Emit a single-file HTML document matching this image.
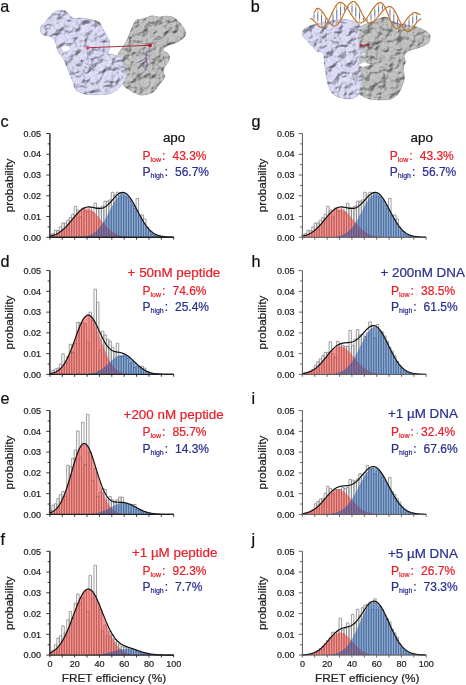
<!DOCTYPE html><html><head><meta charset="utf-8"><style>html,body{margin:0;padding:0;background:#fff;width:466px;height:685px;overflow:hidden}svg{display:block;will-change:transform}</style></head><body>
<svg width="466" height="685" viewBox="0 0 466 685">
<rect width="466" height="685" fill="#fff"/>
<defs>
<filter id="bump" x="0" y="0" width="466" height="110" filterUnits="userSpaceOnUse" color-interpolation-filters="sRGB">
<feTurbulence type="fractalNoise" baseFrequency="0.13" numOctaves="3" seed="7" result="n"/>
<feGaussianBlur in="n" stdDeviation="0.6" result="nb"/>
<feDiffuseLighting in="nb" surfaceScale="4" lighting-color="#fff" diffuseConstant="1.0" result="l"><feDistantLight azimuth="235" elevation="50"/></feDiffuseLighting>
<feComponentTransfer in="l" result="l2"><feFuncR type="linear" slope="0.75" intercept="0.47"/><feFuncG type="linear" slope="0.75" intercept="0.47"/><feFuncB type="linear" slope="0.75" intercept="0.47"/></feComponentTransfer>
<feBlend in="SourceGraphic" in2="l2" mode="multiply" result="m"/>
<feSpecularLighting in="nb" surfaceScale="4" specularConstant="0.6" specularExponent="18" lighting-color="#fff" result="sp"><feDistantLight azimuth="235" elevation="50"/></feSpecularLighting>
<feComposite in="sp" in2="SourceAlpha" operator="in" result="spc"/>
<feComposite in="m" in2="spc" operator="arithmetic" k1="0" k2="1" k3="0.12" k4="0" result="m2"/>
<feComposite in="m2" in2="SourceAlpha" operator="in"/>
</filter>
</defs>
<g>
<path d="M135.8,20.3C137.0,19.0 137.8,19.7 139.2,19.4C140.6,19.1 142.3,19.2 144.3,18.6C146.3,18.0 148.6,16.3 151.2,16.0C153.8,15.7 156.9,16.9 159.8,16.9C162.7,16.9 165.8,15.7 168.4,16.0C171.0,16.3 172.9,17.0 175.2,18.6C177.5,20.2 180.4,23.2 182.1,25.5C183.8,27.8 185.2,30.3 185.5,32.3C185.8,34.3 185.4,35.8 183.8,37.5C182.2,39.2 178.9,41.2 176.1,42.6C173.2,44.0 168.8,44.7 166.7,46.0C164.5,47.3 162.9,49.0 163.2,50.3C163.5,51.6 167.4,52.2 168.4,53.8C169.4,55.4 170.1,57.1 169.2,59.8C168.3,62.5 163.9,67.2 163.2,70.1C162.5,73.0 165.5,74.7 164.9,77.0C164.3,79.3 161.5,81.5 159.8,83.8C158.1,86.1 156.6,89.0 154.6,90.7C152.6,92.4 150.2,93.4 147.8,94.1C145.4,94.8 142.9,95.6 140.0,95.0C137.1,94.4 133.3,92.3 130.6,90.7C127.9,89.1 125.1,87.5 123.7,85.5C122.3,83.5 122.6,81.3 122.0,78.7C121.4,76.1 120.6,73.1 120.0,70.0C119.4,66.9 118.8,62.8 118.5,60.0C118.2,57.2 117.6,55.3 118.5,53.0C119.4,50.7 122.1,48.6 123.7,46.0C125.3,43.4 126.6,40.6 128.0,37.5C129.4,34.4 131.0,30.1 132.3,27.2C133.6,24.3 134.7,21.6 135.8,20.3Z" fill="#b8b8b8" stroke="#888888" stroke-width="0.8" filter="url(#bump)"/>
<path d="M40.3,29.0C40.3,27.9 40.4,26.9 41.0,26.0C41.6,25.1 43.1,24.7 44.0,23.8C44.9,22.9 45.3,22.1 46.3,20.8C47.3,19.6 48.6,17.8 50.0,16.3C51.4,14.8 53.0,12.8 54.5,11.8C56.0,10.8 57.5,10.6 59.0,10.3C60.5,10.1 62.0,9.8 63.5,10.3C65.0,10.8 66.8,12.2 68.0,13.3C69.2,14.4 69.7,16.1 71.0,17.0C72.3,17.9 74.1,18.4 75.6,18.5C77.1,18.6 78.3,17.8 80.0,17.8C81.7,17.8 84.0,18.1 86.0,18.5C88.0,18.9 90.0,19.5 92.0,20.0C94.0,20.5 96.5,20.8 98.0,21.5C99.5,22.2 100.1,23.1 101.0,24.5C101.9,25.9 102.5,28.3 103.5,30.2C104.5,32.1 105.9,33.9 107.0,36.0C108.1,38.1 109.6,40.9 110.0,43.0C110.4,45.1 109.7,47.1 109.4,48.9C109.1,50.7 107.6,52.6 108.2,53.6C108.8,54.6 111.4,54.3 112.9,54.7C114.5,55.1 116.0,55.5 117.5,55.9C119.0,56.3 121.3,56.1 122.2,57.1C123.1,58.1 122.4,59.8 122.8,61.8C123.2,63.8 123.9,66.5 124.5,68.8C125.1,71.1 126.5,73.5 126.3,75.8C126.1,78.1 124.7,80.7 123.4,82.8C122.1,84.9 120.7,86.8 118.7,88.6C116.8,90.3 114.2,92.3 111.7,93.3C109.2,94.3 106.9,94.2 104.0,94.5C101.1,94.8 97.4,95.1 94.1,95.0C90.8,94.9 87.0,94.7 83.9,93.8C80.9,92.9 77.7,91.8 75.8,89.7C73.9,87.7 73.9,84.5 72.7,81.5C71.5,78.5 69.9,74.8 68.6,71.4C67.2,68.0 65.8,63.8 64.6,61.2C63.4,58.6 62.5,57.9 61.3,56.0C60.1,54.1 58.4,52.0 57.5,50.0C56.6,48.0 56.6,45.8 56.0,44.0C55.4,42.2 54.8,40.8 53.8,39.5C52.8,38.2 51.6,37.2 50.0,36.5C48.4,35.8 45.5,35.6 44.0,35.0C42.5,34.4 41.6,33.8 41.0,32.8C40.4,31.8 40.3,30.1 40.3,29.0Z" fill="#d2d2ec" stroke="#a0a0c4" stroke-width="0.8" filter="url(#bump)"/>
<ellipse cx="65.6" cy="48.6" rx="4.6" ry="2.9" fill="#fff" stroke="#b8b8d0" stroke-width="0.6"/>
<line x1="87.6" y1="47.8" x2="149.9" y2="45.3" stroke="#a83040" stroke-width="1.1"/>
<circle cx="87.6" cy="47.8" r="1.9" fill="#d05868"/><circle cx="149.9" cy="45.3" r="2.1" fill="#b02834"/>
<path d="M87.4,49.6 L87.6,57.2 L88.5,59.5 L87.6,64.2 L89.7,67.7 L89.4,70.7 M90.3,59 L95.3,61.9 M85,63.6 L92,65.4" fill="none" stroke="#9a78c0" stroke-width="0.8" stroke-dasharray="1.2 0.8"/>
<path d="M147.1,50.8 L146,57.8 L147.1,64.2 L146.2,66.6 L145.4,70.7 M137.8,62.5 L143.6,59.5 L146,57.8 M141.3,64.2 L144.8,68.3" fill="none" stroke="#7a5aa8" stroke-width="0.9"/>
<path d="M148.3,53.7 L151.8,62.5" fill="none" stroke="#e090c8" stroke-width="0.7"/>
<path d="M362.3,25.5C364.5,24.1 368.4,23.1 371.4,21.9C374.4,20.7 377.9,19.0 380.5,18.2C383.1,17.4 385.1,16.8 386.9,17.3C388.7,17.8 389.5,19.9 391.5,21.0C393.5,22.1 395.8,22.9 398.8,23.7C401.8,24.4 406.5,24.9 409.7,25.5C412.9,26.1 415.5,26.6 417.9,27.4C420.3,28.2 422.3,28.9 424.3,30.1C426.3,31.3 429.0,32.7 429.8,34.7C430.6,36.7 430.1,40.0 428.9,42.0C427.7,44.0 425.1,45.3 422.5,46.5C419.9,47.7 416.0,48.4 413.4,49.3C410.8,50.2 408.5,50.8 407.0,52.0C405.5,53.2 404.6,54.9 404.3,56.6C404.0,58.3 405.4,59.9 405.2,62.0C405.0,64.1 403.4,66.6 403.3,69.3C403.2,72.0 404.6,75.4 404.3,78.4C404.0,81.5 402.7,84.8 401.5,87.6C400.3,90.3 399.0,92.9 397.0,94.9C395.0,96.9 392.8,98.6 389.7,99.4C386.6,100.2 382.3,100.2 378.7,100.0C375.1,99.8 371.2,99.7 367.8,98.5C364.4,97.3 360.4,95.1 358.4,93.0C356.4,90.9 356.1,89.0 355.6,85.7C355.1,82.4 355.6,76.0 355.5,73.0C355.4,70.0 355.0,69.2 355.0,67.5C355.0,65.8 355.3,64.7 355.3,62.9C355.3,61.1 355.1,58.9 355.1,56.6C355.1,54.3 355.0,52.0 355.2,49.3C355.4,46.5 355.8,43.3 356.3,40.1C356.8,36.9 357.0,32.4 358.0,30.0C359.0,27.6 360.1,26.9 362.3,25.5Z" fill="#b8b8b8" stroke="#888888" stroke-width="0.8" filter="url(#bump)"/>
<path d="M302.7,31.8C303.1,30.5 303.9,29.1 305.3,28.0C306.7,26.9 309.3,26.2 311.3,25.5C313.3,24.8 314.3,24.7 317.3,24.0C320.3,23.3 325.0,21.9 329.3,21.2C333.6,20.4 339.4,19.6 343.1,19.5C346.8,19.4 349.1,19.8 351.7,20.5C354.3,21.2 356.9,22.6 358.5,24.0C360.1,25.4 361.1,27.2 361.1,29.2C361.1,31.2 358.8,33.4 358.5,36.0C358.2,38.6 359.0,42.0 359.4,44.6C359.8,47.2 361.1,48.9 361.1,51.5C361.1,54.1 359.8,57.2 359.4,60.1C359.0,63.0 358.2,66.1 358.5,68.7C358.8,71.3 360.7,72.7 361.1,75.5C361.5,78.3 361.5,82.6 361.1,85.8C360.7,89.0 360.1,92.2 358.5,94.4C356.9,96.6 354.6,98.1 351.7,98.7C348.8,99.3 344.5,98.8 341.4,97.9C338.2,97.1 334.9,95.6 332.8,93.6C330.7,91.6 329.6,89.1 328.5,85.8C327.4,82.5 326.6,77.8 325.9,73.8C325.2,69.8 324.6,65.2 324.2,61.8C323.8,58.4 324.4,54.9 323.3,53.2C322.2,51.5 319.2,52.6 317.3,51.5C315.4,50.4 314.1,48.4 312.2,46.4C310.3,44.4 307.8,41.2 306.2,39.5C304.6,37.8 303.3,37.3 302.7,36.0C302.1,34.7 302.3,33.1 302.7,31.8Z" fill="#d2d2ec" stroke="#a0a0c4" stroke-width="0.8" filter="url(#bump)"/>
<path d="M358.2,64.6 L361.5,63.2 L364.5,61.3 L367.5,63.2 L371.3,64.4 L367.5,66 L363.5,67 L359.8,66.2 Z" fill="#fff" stroke="#b0b0b8" stroke-width="0.5"/>
<ellipse cx="363.5" cy="54.2" rx="1.1" ry="1.0" fill="#fff"/>
<line x1="361.1" y1="45.5" x2="368" y2="45" stroke="#903040" stroke-width="1.2"/>
<circle cx="361.1" cy="45.5" r="1.7" fill="#a03040"/><circle cx="368" cy="45" r="1.7" fill="#a03040"/>
<path d="M314.0,13.1L314.0,14.8M314.0,18.2L314.0,19.9M317.8,9.2L317.8,13.0M317.8,20.6L317.8,24.4M321.6,11.6L321.6,15.3M321.6,22.9L321.6,26.7M325.4,17.3L325.4,19.1M325.4,22.7L325.4,24.5M333.0,11.8L333.0,15.1M333.0,21.6L333.0,24.9M336.8,5.2L336.8,9.9M336.8,19.4L336.8,24.1M340.6,3.2L340.6,7.3M340.6,15.5L340.6,19.5M344.4,5.4L344.4,7.0M344.4,10.1L344.4,11.7M348.2,6.8L348.2,7.2M348.2,8.0L348.2,8.4M352.0,2.6L352.0,5.7M352.0,11.8L352.0,14.9M355.8,3.7L355.8,7.8M355.8,16.1L355.8,20.2M359.6,9.1L359.6,12.4M359.6,18.9L359.6,22.2M363.4,17.2L363.4,18.1M363.4,19.9L363.4,20.8M367.2,18.5L367.2,19.1M367.2,20.3L367.2,20.9M371.0,12.4L371.0,14.8M371.0,19.6L371.0,22.0M374.8,6.8L374.8,10.0M374.8,16.3L374.8,19.4M378.6,3.9L378.6,6.8M378.6,12.5L378.6,15.4M382.4,4.4L382.4,5.9M382.4,8.9L382.4,10.4M390.0,7.3L390.0,10.1M390.0,15.7L390.0,18.5M393.8,10.6L393.8,14.5M393.8,22.3L393.8,26.2M397.6,17.0L397.6,19.7M397.6,24.9L397.6,27.6M405.2,22.5L405.2,24.2M405.2,27.5L405.2,29.2M409.0,17.3L409.0,20.6M409.0,27.2L409.0,30.5M412.8,13.9L412.8,17.2M412.8,23.6L412.8,26.8M416.6,13.7L416.6,15.7M416.6,19.9L416.6,21.9" stroke="#a8a060" stroke-width="0.8" fill="none"/>
<path d="M314.0,14.8L314.0,18.2M317.8,13.0L317.8,20.6M321.6,15.3L321.6,22.9M325.4,19.1L325.4,22.7M333.0,15.1L333.0,21.6M336.8,9.9L336.8,19.4M340.6,7.3L340.6,15.5M344.4,7.0L344.4,10.1M348.2,7.2L348.2,8.0M352.0,5.7L352.0,11.8M355.8,7.8L355.8,16.1M359.6,12.4L359.6,18.9M363.4,18.1L363.4,19.9M367.2,19.1L367.2,20.3M371.0,14.8L371.0,19.6M374.8,10.0L374.8,16.3M378.6,6.8L378.6,12.5M382.4,5.9L382.4,8.9M390.0,10.1L390.0,15.7M393.8,14.5L393.8,22.3M397.6,19.7L397.6,24.9M405.2,24.2L405.2,27.5M409.0,20.6L409.0,27.2M412.8,17.2L412.8,23.6M416.6,15.7L416.6,19.9" stroke="#4a5aa0" stroke-width="0.9" fill="none"/>
<polyline points="313.5,12.5 314.0,12.3 314.5,11.8 315.0,11.1 315.5,10.2 316.0,9.4 316.5,8.7 317.0,8.4 317.5,8.3 318.0,8.4 318.5,8.5 319.0,8.7 319.5,9.0 320.0,9.4 320.5,9.8 321.0,10.2 321.5,10.8 322.0,11.4 322.5,12.0 323.0,12.7 323.5,13.4 324.0,14.1 324.5,14.9 325.0,15.7 325.5,16.5 326.0,17.3 326.5,18.1 327.0,18.9 327.5,19.7 328.0,20.5 328.5,21.2 329.0,21.9 329.5,22.6 330.0,23.2 330.5,23.7 331.0,24.3 331.5,24.7 332.0,25.1 332.5,25.4 333.0,25.7 333.5,25.9 334.0,26.0 334.5,26.0 335.0,26.0 335.5,25.8 336.0,25.6 336.5,25.3 337.0,24.9 337.5,24.5 338.0,24.0 338.5,23.4 339.0,22.7 339.5,22.0 340.0,21.2 340.5,20.3 341.0,19.5 341.5,18.5 342.0,17.6 342.5,16.6 343.0,15.6 343.5,14.6 344.0,13.5 344.5,12.5 345.0,11.5 345.5,10.5 346.0,9.5 346.5,8.6 347.0,7.7 347.5,6.8 348.0,6.0 348.5,5.2 349.0,4.5 349.5,3.9 350.0,3.3 350.5,2.8 351.0,2.4 351.5,2.0 352.0,1.8 352.5,1.6 353.0,1.5 353.5,1.5 354.0,1.6 354.5,1.8 355.0,2.1 355.5,2.5 356.0,2.9 356.5,3.5 357.0,4.1 357.5,4.8 358.0,5.6 358.5,6.5 359.0,7.4 359.5,8.3 360.0,9.3 360.5,10.3 361.0,11.3 361.5,12.4 362.0,13.4 362.5,14.4 363.0,15.4 363.5,16.4 364.0,17.3 364.5,18.2 365.0,19.0 365.5,19.8 366.0,20.5 366.5,21.1 367.0,21.7 367.5,22.1 368.0,22.5 368.5,22.8 369.0,22.9 369.5,23.0 370.0,23.0 370.5,22.9 371.0,22.8 371.5,22.6 372.0,22.4 372.5,22.2 373.0,21.9 373.5,21.5 374.0,21.1 374.5,20.7 375.0,20.2 375.5,19.7 376.0,19.2 376.5,18.6 377.0,18.1 377.5,17.5 378.0,16.9 378.5,16.2 379.0,15.6 379.5,14.9 380.0,14.3 380.5,13.7 381.0,13.0 381.5,12.4 382.0,11.8 382.5,11.2 383.0,10.6 383.5,10.1 384.0,9.6 384.5,9.1 385.0,8.6 385.5,8.2 386.0,7.8 386.5,7.5 387.0,7.2 387.5,7.0 388.0,6.8 388.5,6.6 389.0,6.5 389.5,6.5 390.0,6.5 390.5,6.6 391.0,6.8 391.5,7.1 392.0,7.5 392.5,7.9 393.0,8.5 393.5,9.1 394.0,9.8 394.5,10.6 395.0,11.4 395.5,12.3 396.0,13.2 396.5,14.2 397.0,15.2 397.5,16.2 398.0,17.3 398.5,18.4 399.0,19.4 399.5,20.5 400.0,21.6 400.5,22.6 401.0,23.6 401.5,24.6 402.0,25.6 402.5,26.5 403.0,27.3 403.5,28.1 404.0,28.8 404.5,29.4 405.0,30.0 405.5,30.4 406.0,30.8 406.5,31.1 407.0,31.3 407.5,31.5 408.0,31.5 408.5,31.4 409.0,31.3 409.5,31.1 410.0,30.8 410.5,30.4 411.0,30.0 411.5,29.5 412.0,28.9 412.5,28.3 413.0,27.6 413.5,27.0 414.0,26.3 414.5,25.5 415.0,24.8 415.5,24.1 416.0,23.4 416.5,22.7 417.0,22.1 417.5,21.5 418.0,20.9 418.5,20.4 419.0,20.0 419.5,19.7 420.0,19.4 420.5,19.2 421.0,19.0 421.5,19.0" fill="none" stroke="#c07028" stroke-width="1.15" stroke-linejoin="round"/>
<polyline points="310.0,18.5 310.5,18.5 311.0,18.7 311.5,18.8 312.0,19.1 312.5,19.4 313.0,19.8 313.5,20.3 314.0,20.8 314.5,21.3 315.0,21.8 315.5,22.4 316.0,23.0 316.5,23.6 317.0,24.2 317.5,24.7 318.0,25.2 318.5,25.7 319.0,26.2 319.5,26.6 320.0,26.9 320.5,27.2 321.0,27.3 321.5,27.5 322.0,27.5 322.5,27.5 323.0,27.3 323.5,27.1 324.0,26.8 324.5,26.4 325.0,25.9 325.5,25.3 326.0,24.7 326.5,23.9 327.0,23.2 327.5,22.3 328.0,21.4 328.5,20.5 329.0,19.5 329.5,18.5 330.0,17.4 330.5,16.3 331.0,15.3 331.5,14.2 332.0,13.1 332.5,12.1 333.0,11.0 333.5,10.0 334.0,9.1 334.5,8.1 335.0,7.2 335.5,6.4 336.0,5.7 336.5,5.0 337.0,4.4 337.5,3.8 338.0,3.4 338.5,3.0 339.0,2.7 339.5,2.5 340.0,2.4 340.5,2.4 341.0,2.5 341.5,2.6 342.0,2.8 342.5,3.0 343.0,3.3 343.5,3.7 344.0,4.1 344.5,4.6 345.0,5.2 345.5,5.7 346.0,6.4 346.5,7.0 347.0,7.7 347.5,8.5 348.0,9.2 348.5,10.0 349.0,10.8 349.5,11.6 350.0,12.5 350.5,13.3 351.0,14.1 351.5,14.9 352.0,15.7 352.5,16.5 353.0,17.2 353.5,17.9 354.0,18.6 354.5,19.3 355.0,19.9 355.5,20.5 356.0,21.0 356.5,21.4 357.0,21.8 357.5,22.2 358.0,22.5 358.5,22.7 359.0,22.9 359.5,23.0 360.0,23.0 360.5,23.0 361.0,22.9 361.5,22.7 362.0,22.5 362.5,22.3 363.0,21.9 363.5,21.6 364.0,21.1 364.5,20.7 365.0,20.1 365.5,19.6 366.0,19.0 366.5,18.3 367.0,17.7 367.5,17.0 368.0,16.2 368.5,15.5 369.0,14.7 369.5,14.0 370.0,13.2 370.5,12.4 371.0,11.6 371.5,10.9 372.0,10.1 372.5,9.4 373.0,8.6 373.5,7.9 374.0,7.3 374.5,6.6 375.0,6.0 375.5,5.5 376.0,4.9 376.5,4.5 377.0,4.0 377.5,3.7 378.0,3.3 378.5,3.1 379.0,2.9 379.5,2.7 380.0,2.6 380.5,2.6 381.0,2.7 381.5,2.8 382.0,3.2 382.5,3.6 383.0,4.1 383.5,4.8 384.0,5.5 384.5,6.4 385.0,7.3 385.5,8.4 386.0,9.4 386.5,10.6 387.0,11.8 387.5,13.0 388.0,14.3 388.5,15.5 389.0,16.8 389.5,18.1 390.0,19.3 390.5,20.5 391.0,21.7 391.5,22.7 392.0,23.8 392.5,24.7 393.0,25.6 393.5,26.3 394.0,27.0 394.5,27.5 395.0,27.9 395.5,28.3 396.0,28.4 396.5,28.5 397.0,28.5 397.5,28.4 398.0,28.2 398.5,28.1 399.0,27.8 399.5,27.5 400.0,27.2 400.5,26.8 401.0,26.3 401.5,25.9 402.0,25.3 402.5,24.8 403.0,24.2 403.5,23.6 404.0,23.0 404.5,22.3 405.0,21.7 405.5,21.0 406.0,20.3 406.5,19.7 407.0,19.0 407.5,18.4 408.0,17.7 408.5,17.1 409.0,16.5 409.5,16.0 410.0,15.4 410.5,15.0 411.0,14.5 411.5,14.1 412.0,13.7 412.5,13.4 413.0,13.1 413.5,12.9 414.0,12.8 414.5,12.7 415.0,12.6 415.5,12.6 416.0,12.7 416.5,12.9 417.0,13.1 417.5,13.4 418.0,13.6 418.5,13.9 419.0,14.1 419.5,14.3 420.0,14.5 420.5,14.5" fill="none" stroke="#c07028" stroke-width="1.15" stroke-linejoin="round"/>
</g>
<text x="0.3" y="12" font-family="Liberation Sans" font-size="16.2" fill="#111" stroke="#111" stroke-width="0.22">a</text>
<text x="250.7" y="12" font-family="Liberation Sans" font-size="16.2" fill="#111" stroke="#111" stroke-width="0.22">b</text>
<path d="M49.40 237.30V234.81H51.88V237.30M51.88 237.30V233.77H54.35V237.30M54.35 237.30V230.24H56.83V237.30M56.83 237.30V230.66H59.30V237.30M59.30 237.30V226.92H61.78V237.30M61.78 237.30V222.98H64.26V237.30M64.26 237.30V222.98H66.73V237.30M66.73 237.30V220.28H69.21V237.30M69.21 237.30V217.58H71.68V237.30M71.68 237.30V214.26H74.16V237.30M74.16 237.30V206.37H76.64V237.30M76.64 237.30V210.10H79.11V237.30M79.11 237.30V216.96H81.59V237.30M81.59 237.30V208.03H84.06V237.30M84.06 237.30V210.73H86.54V237.30M86.54 237.30V211.56H89.02V237.30M89.02 237.30V207.41H91.49V237.30M91.49 237.30V212.80H93.97V237.30M93.97 237.30V203.25H96.44V237.30M96.44 237.30V207.41H98.92V237.30M98.92 237.30V207.41H101.40V237.30M101.40 237.30V206.16H103.87V237.30M103.87 237.30V201.18H106.35V237.30M106.35 237.30V201.18H108.82V237.30M108.82 237.30V199.93H111.30V237.30M111.30 237.30V192.25H113.78V237.30M113.78 237.30V194.95H116.25V237.30M116.25 237.30V192.25H118.73V237.30M118.73 237.30V192.87H121.20V237.30M121.20 237.30V193.70H123.68V237.30M123.68 237.30V196.40H126.16V237.30M126.16 237.30V197.86H128.63V237.30M128.63 237.30V201.18H131.11V237.30M131.11 237.30V205.33H133.58V237.30M133.58 237.30V208.65H136.06V237.30M136.06 237.30V198.48H138.54V237.30M138.54 237.30V215.71H141.01V237.30M141.01 237.30V214.88H143.49V237.30M143.49 237.30V219.03H145.96V237.30M145.96 237.30V227.34H148.44V237.30M148.44 237.30V231.49H150.92V237.30M150.92 237.30V234.19H153.39V237.30M153.39 237.30V235.43H155.87V237.30M155.87 237.30V236.26H158.34V237.30M158.34 237.30V235.87H160.82V237.30M160.82 237.30V236.40H163.30V237.30M163.30 237.30V236.75H165.77V237.30M165.77 237.30V236.97H168.25V237.30M168.25 237.30V237.11H170.72V237.30M170.72 237.30V237.19H173.20V237.30" fill="#fff" stroke="#858585" stroke-width="0.8"/>
<path d="M49.90,237.30L49.90,236.16 50.52,236.03 51.14,235.89 51.76,235.73 52.38,235.56 52.99,235.38 53.61,235.18 54.23,234.96 54.85,234.72 55.47,234.47 56.09,234.20 56.71,233.91 57.33,233.59 57.95,233.26 58.57,232.90 59.19,232.52 59.80,232.12 60.42,231.70 61.04,231.25 61.66,230.77 62.28,230.28 62.90,229.75 63.52,229.21 64.14,228.64 64.76,228.05 65.38,227.44 65.99,226.81 66.61,226.15 67.23,225.48 67.85,224.79 68.47,224.09 69.09,223.37 69.71,222.64 70.33,221.90 70.95,221.15 71.56,220.40 72.18,219.65 72.80,218.89 73.42,218.14 74.04,217.40 74.66,216.67 75.28,215.94 75.90,215.24 76.52,214.55 77.14,213.89 77.75,213.25 78.37,212.64 78.99,212.06 79.61,211.51 80.23,211.00 80.85,210.54 81.47,210.11 82.09,209.73 82.71,209.39 83.33,209.11 83.94,208.87 84.56,208.68 85.18,208.55 85.80,208.47 86.42,208.44 87.04,208.47 87.66,208.55 88.28,208.68 88.90,208.87 89.52,209.11 90.13,209.39 90.75,209.73 91.37,210.11 91.99,210.54 92.61,211.00 93.23,211.51 93.85,212.06 94.47,212.64 95.09,213.25 95.71,213.89 96.32,214.55 96.94,215.24 97.56,215.94 98.18,216.67 98.80,217.40 99.42,218.14 100.04,218.89 100.66,219.65 101.28,220.40 101.90,221.15 102.52,221.90 103.13,222.64 103.75,223.37 104.37,224.09 104.99,224.79 105.61,225.48 106.23,226.15 106.85,226.81 107.47,227.44 108.09,228.05 108.70,228.64 109.32,229.21 109.94,229.75 110.56,230.28 111.18,230.77 111.80,231.25 112.42,231.70 113.04,232.12 113.66,232.52 114.28,232.90 114.90,233.26 115.51,233.59 116.13,233.91 116.75,234.20 117.37,234.47 117.99,234.72 118.61,234.96 119.23,235.18 119.85,235.38 120.47,235.56 121.09,235.73 121.70,235.89 122.32,236.03 122.94,236.16 123.56,236.28 124.18,236.39 124.80,236.49 125.42,236.58 126.04,236.66 126.66,236.73 127.28,236.80 127.89,236.85 128.51,236.91 129.13,236.95 129.75,237.00 130.37,237.03 130.99,237.07 131.61,237.10 132.23,237.12 132.85,237.14 133.47,237.17 134.08,237.18 134.70,237.20 135.32,237.21 135.94,237.22 136.56,237.23 137.18,237.24 137.80,237.25 138.42,237.26 139.04,237.26 139.66,237.27 140.27,237.27 140.89,237.28 141.51,237.28 142.13,237.28 142.75,237.29 143.37,237.29 143.99,237.29 144.61,237.29 145.23,237.29 145.84,237.29 146.46,237.30 147.08,237.30 147.70,237.30 148.32,237.30 148.94,237.30 149.56,237.30 150.18,237.30 150.80,237.30 151.42,237.30 152.03,237.30 152.65,237.30 153.27,237.30 153.89,237.30 154.51,237.30 155.13,237.30 155.75,237.30 156.37,237.30 156.99,237.30 157.61,237.30 158.22,237.30 158.84,237.30 159.46,237.30 160.08,237.30 160.70,237.30 161.32,237.30 161.94,237.30 162.56,237.30 163.18,237.30 163.80,237.30 164.41,237.30 165.03,237.30 165.65,237.30 166.27,237.30 166.89,237.30 167.51,237.30 168.13,237.30 168.75,237.30 169.37,237.30 169.99,237.30 170.60,237.30 171.22,237.30 171.84,237.30 172.46,237.30 173.08,237.30 173.70,237.30L173.70,237.30Z" fill="rgb(235,45,40)" fill-opacity="0.5"/>
<path d="M49.90,237.30L49.90,237.30 50.52,237.30 51.14,237.30 51.76,237.30 52.38,237.30 52.99,237.30 53.61,237.30 54.23,237.30 54.85,237.30 55.47,237.30 56.09,237.30 56.71,237.30 57.33,237.30 57.95,237.30 58.57,237.30 59.19,237.30 59.80,237.30 60.42,237.30 61.04,237.30 61.66,237.30 62.28,237.30 62.90,237.30 63.52,237.30 64.14,237.30 64.76,237.29 65.38,237.29 65.99,237.29 66.61,237.29 67.23,237.29 67.85,237.29 68.47,237.28 69.09,237.28 69.71,237.28 70.33,237.27 70.95,237.27 71.56,237.26 72.18,237.25 72.80,237.25 73.42,237.24 74.04,237.23 74.66,237.21 75.28,237.20 75.90,237.18 76.52,237.16 77.14,237.14 77.75,237.11 78.37,237.08 78.99,237.05 79.61,237.01 80.23,236.97 80.85,236.92 81.47,236.86 82.09,236.80 82.71,236.73 83.33,236.65 83.94,236.56 84.56,236.46 85.18,236.35 85.80,236.23 86.42,236.09 87.04,235.94 87.66,235.77 88.28,235.58 88.90,235.38 89.52,235.15 90.13,234.90 90.75,234.63 91.37,234.34 91.99,234.02 92.61,233.67 93.23,233.30 93.85,232.89 94.47,232.45 95.09,231.98 95.71,231.48 96.32,230.94 96.94,230.36 97.56,229.75 98.18,229.10 98.80,228.41 99.42,227.68 100.04,226.91 100.66,226.10 101.28,225.26 101.90,224.38 102.52,223.46 103.13,222.50 103.75,221.51 104.37,220.49 104.99,219.43 105.61,218.35 106.23,217.25 106.85,216.12 107.47,214.97 108.09,213.80 108.70,212.63 109.32,211.44 109.94,210.26 110.56,209.07 111.18,207.90 111.80,206.73 112.42,205.58 113.04,204.46 113.66,203.36 114.28,202.29 114.90,201.27 115.51,200.29 116.13,199.35 116.75,198.47 117.37,197.65 117.99,196.89 118.61,196.20 119.23,195.58 119.85,195.04 120.47,194.57 121.09,194.19 121.70,193.89 122.32,193.67 122.94,193.54 123.56,193.50 124.18,193.54 124.80,193.67 125.42,193.89 126.04,194.19 126.66,194.57 127.28,195.04 127.89,195.58 128.51,196.20 129.13,196.89 129.75,197.65 130.37,198.47 130.99,199.35 131.61,200.29 132.23,201.27 132.85,202.29 133.47,203.36 134.08,204.46 134.70,205.58 135.32,206.73 135.94,207.90 136.56,209.07 137.18,210.26 137.80,211.44 138.42,212.63 139.04,213.80 139.66,214.97 140.27,216.12 140.89,217.25 141.51,218.35 142.13,219.43 142.75,220.49 143.37,221.51 143.99,222.50 144.61,223.46 145.23,224.38 145.84,225.26 146.46,226.10 147.08,226.91 147.70,227.68 148.32,228.41 148.94,229.10 149.56,229.75 150.18,230.36 150.80,230.94 151.42,231.48 152.03,231.98 152.65,232.45 153.27,232.89 153.89,233.30 154.51,233.67 155.13,234.02 155.75,234.34 156.37,234.63 156.99,234.90 157.61,235.15 158.22,235.38 158.84,235.58 159.46,235.77 160.08,235.94 160.70,236.09 161.32,236.23 161.94,236.35 162.56,236.46 163.18,236.56 163.80,236.65 164.41,236.73 165.03,236.80 165.65,236.86 166.27,236.92 166.89,236.97 167.51,237.01 168.13,237.05 168.75,237.08 169.37,237.11 169.99,237.14 170.60,237.16 171.22,237.18 171.84,237.20 172.46,237.21 173.08,237.23 173.70,237.24L173.70,237.30Z" fill="rgb(13,77,171)" fill-opacity="0.476"/>
<polyline points="49.90,236.16 50.52,236.03 51.14,235.89 51.76,235.73 52.38,235.56 52.99,235.38 53.61,235.18 54.23,234.96 54.85,234.72 55.47,234.47 56.09,234.20 56.71,233.91 57.33,233.59 57.95,233.26 58.57,232.90 59.19,232.52 59.80,232.12 60.42,231.69 61.04,231.24 61.66,230.77 62.28,230.27 62.90,229.75 63.52,229.21 64.14,228.64 64.76,228.05 65.38,227.43 65.99,226.80 66.61,226.14 67.23,225.47 67.85,224.78 68.47,224.07 69.09,223.35 69.71,222.62 70.33,221.87 70.95,221.12 71.56,220.36 72.18,219.60 72.80,218.84 73.42,218.08 74.04,217.32 74.66,216.58 75.28,215.84 75.90,215.12 76.52,214.41 77.14,213.73 77.75,213.06 78.37,212.42 78.99,211.81 79.61,211.22 80.23,210.67 80.85,210.15 81.47,209.67 82.09,209.23 82.71,208.82 83.33,208.46 83.94,208.13 84.56,207.84 85.18,207.60 85.80,207.40 86.42,207.23 87.04,207.11 87.66,207.02 88.28,206.96 88.90,206.94 89.52,206.96 90.13,207.00 90.75,207.06 91.37,207.15 91.99,207.26 92.61,207.38 93.23,207.51 93.85,207.65 94.47,207.79 95.09,207.93 95.71,208.06 96.32,208.19 96.94,208.30 97.56,208.39 98.18,208.46 98.80,208.51 99.42,208.52 100.04,208.50 100.66,208.45 101.28,208.36 101.90,208.23 102.52,208.06 103.13,207.84 103.75,207.58 104.37,207.28 104.99,206.93 105.61,206.53 106.23,206.10 106.85,205.62 107.47,205.11 108.09,204.55 108.70,203.97 109.32,203.35 109.94,202.71 110.56,202.05 111.18,201.37 111.80,200.68 112.42,199.98 113.04,199.28 113.66,198.58 114.28,197.90 114.90,197.23 115.51,196.58 116.13,195.96 116.75,195.37 117.37,194.82 117.99,194.32 118.61,193.86 119.23,193.46 119.85,193.12 120.47,192.84 121.09,192.62 121.70,192.48 122.32,192.40 122.94,192.40 123.56,192.48 124.18,192.63 124.80,192.86 125.42,193.16 126.04,193.55 126.66,194.00 127.28,194.54 127.89,195.14 128.51,195.81 129.13,196.55 129.75,197.35 130.37,198.21 130.99,199.12 131.61,200.08 132.23,201.09 132.85,202.14 133.47,203.22 134.08,204.34 134.70,205.48 135.32,206.64 135.94,207.82 136.56,209.01 137.18,210.20 137.80,211.40 138.42,212.59 139.04,213.77 139.66,214.94 140.27,216.09 140.89,217.22 141.51,218.33 142.13,219.42 142.75,220.47 143.37,221.50 143.99,222.49 144.61,223.45 145.23,224.37 145.84,225.25 146.46,226.10 147.08,226.91 147.70,227.67 148.32,228.40 148.94,229.09 149.56,229.75 150.18,230.36 150.80,230.94 151.42,231.48 152.03,231.98 152.65,232.45 153.27,232.89 153.89,233.30 154.51,233.67 155.13,234.02 155.75,234.34 156.37,234.63 156.99,234.90 157.61,235.15 158.22,235.38 158.84,235.58 159.46,235.77 160.08,235.94 160.70,236.09 161.32,236.23 161.94,236.35 162.56,236.46 163.18,236.56 163.80,236.65 164.41,236.73 165.03,236.80 165.65,236.86 166.27,236.92 166.89,236.97 167.51,237.01 168.13,237.05 168.75,237.08 169.37,237.11 169.99,237.14 170.60,237.16 171.22,237.18 171.84,237.20 172.46,237.21 173.08,237.23 173.70,237.24" fill="none" stroke="#111" stroke-width="1.2" stroke-linejoin="round"/>
<path d="M49.90 133.50V237.30H173.70" fill="none" stroke="#222" stroke-width="1.4"/>
<path d="M46.30 237.30H49.90M47.60 226.92H49.90M46.30 216.54H49.90M47.60 206.16H49.90M46.30 195.78H49.90M47.60 185.40H49.90M46.30 175.02H49.90M47.60 164.64H49.90M46.30 154.26H49.90M47.60 143.88H49.90M46.30 133.50H49.90M49.90 237.30V239.70M62.28 237.30V239.70M74.66 237.30V239.70M87.04 237.30V239.70M99.42 237.30V239.70M111.80 237.30V239.70M124.18 237.30V239.70M136.56 237.30V239.70M148.94 237.30V239.70M161.32 237.30V239.70M173.70 237.30V239.70" fill="none" stroke="#222" stroke-width="0.9"/>
<text x="41.10" y="240.50" font-family="Liberation Sans" font-size="9" text-anchor="end" fill="#222" stroke="#222" stroke-width="0.22">0.00</text>
<text x="41.10" y="219.74" font-family="Liberation Sans" font-size="9" text-anchor="end" fill="#222" stroke="#222" stroke-width="0.22">0.01</text>
<text x="41.10" y="198.98" font-family="Liberation Sans" font-size="9" text-anchor="end" fill="#222" stroke="#222" stroke-width="0.22">0.02</text>
<text x="41.10" y="178.22" font-family="Liberation Sans" font-size="9" text-anchor="end" fill="#222" stroke="#222" stroke-width="0.22">0.03</text>
<text x="41.10" y="157.46" font-family="Liberation Sans" font-size="9" text-anchor="end" fill="#222" stroke="#222" stroke-width="0.22">0.04</text>
<text x="41.10" y="136.70" font-family="Liberation Sans" font-size="9" text-anchor="end" fill="#222" stroke="#222" stroke-width="0.22">0.05</text>
<text transform="translate(12.80,185.40) rotate(-90)" font-family="Liberation Sans" font-size="11.8" text-anchor="middle" fill="#222" stroke="#222" stroke-width="0.22">probability</text>
<text x="0.5" y="127.0" font-family="Liberation Sans" font-size="16.2" fill="#111" stroke="#111" stroke-width="0.22">c</text>
<text x="162.90" y="141.60" font-family="Liberation Sans" font-size="13.4" fill="#111" stroke="#111" stroke-width="0.22">apo</text>
<text x="142.50" y="159.60" font-family="Liberation Sans" font-size="12" fill="#e8202a" stroke="#e8202a" stroke-width="0.22">P<tspan font-size="7.0" dy="2.2">low</tspan><tspan dy="-2.2" dx="0.9">:</tspan></text>
<text x="172.50" y="159.60" font-family="Liberation Sans" font-size="12" fill="#e8202a" stroke="#e8202a" stroke-width="0.22">43.3%</text>
<text x="142.50" y="175.50" font-family="Liberation Sans" font-size="12" fill="#2b3090" stroke="#2b3090" stroke-width="0.22">P<tspan font-size="7.0" dy="2.2">high</tspan><tspan dy="-2.2" dx="0.9">:</tspan></text>
<text x="175.00" y="175.50" font-family="Liberation Sans" font-size="12" fill="#2b3090" stroke="#2b3090" stroke-width="0.22">56.7%</text>
<path d="M49.40 374.40V373.57H51.88V374.40M51.88 374.40V370.25H54.35V374.40M54.35 374.40V369.00H56.83V374.40M56.83 374.40V368.17H59.30V374.40M59.30 374.40V364.02H61.78V374.40M61.78 374.40V353.85H64.26V374.40M64.26 374.40V361.32H66.73V374.40M66.73 374.40V356.55H69.21V374.40M69.21 374.40V344.30H71.68V374.40M71.68 374.40V352.39H74.16V374.40M74.16 374.40V343.47H76.64V374.40M76.64 374.40V322.29H79.11V374.40M79.11 374.40V322.92H81.59V374.40M81.59 374.40V322.50H84.06V374.40M84.06 374.40V323.54H86.54V374.40M86.54 374.40V342.22H89.02V374.40M89.02 374.40V312.12H91.49V374.40M91.49 374.40V320.42H93.97V374.40M93.97 374.40V289.28H96.44V374.40M96.44 374.40V302.16H98.92V374.40M98.92 374.40V350.11H101.40V374.40M101.40 374.40V331.22H103.87V374.40M103.87 374.40V334.96H106.35V374.40M106.35 374.40V339.11H108.82V374.40M108.82 374.40V341.18H111.30V374.40M111.30 374.40V347.20H113.78V374.40M113.78 374.40V351.56H116.25V374.40M116.25 374.40V343.26H118.73V374.40M118.73 374.40V356.55H121.20V374.40M121.20 374.40V356.55H123.68V374.40M123.68 374.40V355.72H126.16V374.40M126.16 374.40V358.41H128.63V374.40M128.63 374.40V363.40H131.11V374.40M131.11 374.40V361.94H133.58V374.40M133.58 374.40V367.55H136.06V374.40M136.06 374.40V366.72H138.54V374.40M138.54 374.40V366.72H141.01V374.40M141.01 374.40V366.30H143.49V374.40M143.49 374.40V368.17H145.96V374.40M145.96 374.40V371.49H148.44V374.40M148.44 374.40V372.95H150.92V374.40M150.92 374.40V373.57H153.39V374.40M153.39 374.40V373.98H155.87V374.40M155.87 374.40V373.47H158.34V374.40M158.34 374.40V373.81H160.82V374.40M160.82 374.40V374.03H163.30V374.40M163.30 374.40V374.18H165.77V374.40M165.77 374.40V374.27H168.25V374.40M168.25 374.40V374.33H170.72V374.40M170.72 374.40V374.36H173.20V374.40" fill="#fff" stroke="#858585" stroke-width="0.8"/>
<path d="M49.90,374.40L49.90,373.71 50.52,373.60 51.14,373.48 51.76,373.34 52.38,373.19 52.99,373.02 53.61,372.82 54.23,372.60 54.85,372.36 55.47,372.09 56.09,371.79 56.71,371.45 57.33,371.09 57.95,370.68 58.57,370.24 59.19,369.75 59.80,369.22 60.42,368.64 61.04,368.01 61.66,367.34 62.28,366.60 62.90,365.81 63.52,364.97 64.14,364.06 64.76,363.10 65.38,362.07 65.99,360.98 66.61,359.83 67.23,358.62 67.85,357.35 68.47,356.01 69.09,354.63 69.71,353.18 70.33,351.69 70.95,350.14 71.56,348.56 72.18,346.93 72.80,345.27 73.42,343.58 74.04,341.87 74.66,340.15 75.28,338.42 75.90,336.69 76.52,334.98 77.14,333.28 77.75,331.61 78.37,329.97 78.99,328.38 79.61,326.85 80.23,325.38 80.85,323.99 81.47,322.68 82.09,321.46 82.71,320.34 83.33,319.32 83.94,318.42 84.56,317.63 85.18,316.97 85.80,316.44 86.42,316.05 87.04,315.78 87.66,315.66 88.28,315.67 88.90,315.83 89.52,316.12 90.13,316.54 90.75,317.10 91.37,317.78 91.99,318.59 92.61,319.51 93.23,320.55 93.85,321.69 94.47,322.93 95.09,324.26 95.71,325.67 96.32,327.15 96.94,328.70 97.56,330.30 98.18,331.94 98.80,333.61 99.42,335.32 100.04,337.04 100.66,338.77 101.28,340.49 101.90,342.21 102.52,343.92 103.13,345.60 103.75,347.26 104.37,348.88 104.99,350.45 105.61,351.99 106.23,353.47 106.85,354.91 107.47,356.28 108.09,357.60 108.70,358.86 109.32,360.06 109.94,361.20 110.56,362.28 111.18,363.29 111.80,364.25 112.42,365.14 113.04,365.98 113.66,366.75 114.28,367.48 114.90,368.14 115.51,368.76 116.13,369.33 116.75,369.85 117.37,370.33 117.99,370.77 118.61,371.16 119.23,371.52 119.85,371.85 120.47,372.14 121.09,372.41 121.70,372.65 122.32,372.86 122.94,373.05 123.56,373.22 124.18,373.37 124.80,373.51 125.42,373.62 126.04,373.73 126.66,373.82 127.28,373.90 127.89,373.97 128.51,374.03 129.13,374.08 129.75,374.13 130.37,374.17 130.99,374.20 131.61,374.23 132.23,374.26 132.85,374.28 133.47,374.30 134.08,374.32 134.70,374.33 135.32,374.34 135.94,374.35 136.56,374.36 137.18,374.37 137.80,374.37 138.42,374.38 139.04,374.38 139.66,374.38 140.27,374.39 140.89,374.39 141.51,374.39 142.13,374.39 142.75,374.39 143.37,374.40 143.99,374.40 144.61,374.40 145.23,374.40 145.84,374.40 146.46,374.40 147.08,374.40 147.70,374.40 148.32,374.40 148.94,374.40 149.56,374.40 150.18,374.40 150.80,374.40 151.42,374.40 152.03,374.40 152.65,374.40 153.27,374.40 153.89,374.40 154.51,374.40 155.13,374.40 155.75,374.40 156.37,374.40 156.99,374.40 157.61,374.40 158.22,374.40 158.84,374.40 159.46,374.40 160.08,374.40 160.70,374.40 161.32,374.40 161.94,374.40 162.56,374.40 163.18,374.40 163.80,374.40 164.41,374.40 165.03,374.40 165.65,374.40 166.27,374.40 166.89,374.40 167.51,374.40 168.13,374.40 168.75,374.40 169.37,374.40 169.99,374.40 170.60,374.40 171.22,374.40 171.84,374.40 172.46,374.40 173.08,374.40 173.70,374.40L173.70,374.40Z" fill="rgb(235,45,40)" fill-opacity="0.5"/>
<path d="M49.90,374.40L49.90,374.40 50.52,374.40 51.14,374.40 51.76,374.40 52.38,374.40 52.99,374.40 53.61,374.40 54.23,374.40 54.85,374.40 55.47,374.40 56.09,374.40 56.71,374.40 57.33,374.40 57.95,374.40 58.57,374.40 59.19,374.40 59.80,374.40 60.42,374.40 61.04,374.40 61.66,374.40 62.28,374.40 62.90,374.40 63.52,374.40 64.14,374.40 64.76,374.40 65.38,374.40 65.99,374.40 66.61,374.40 67.23,374.40 67.85,374.40 68.47,374.40 69.09,374.40 69.71,374.40 70.33,374.40 70.95,374.39 71.56,374.39 72.18,374.39 72.80,374.39 73.42,374.39 74.04,374.38 74.66,374.38 75.28,374.38 75.90,374.37 76.52,374.37 77.14,374.36 77.75,374.36 78.37,374.35 78.99,374.34 79.61,374.33 80.23,374.32 80.85,374.30 81.47,374.28 82.09,374.26 82.71,374.24 83.33,374.22 83.94,374.19 84.56,374.15 85.18,374.12 85.80,374.07 86.42,374.03 87.04,373.97 87.66,373.91 88.28,373.84 88.90,373.76 89.52,373.68 90.13,373.58 90.75,373.48 91.37,373.36 91.99,373.23 92.61,373.09 93.23,372.94 93.85,372.77 94.47,372.59 95.09,372.38 95.71,372.17 96.32,371.93 96.94,371.68 97.56,371.41 98.18,371.11 98.80,370.80 99.42,370.47 100.04,370.12 100.66,369.74 101.28,369.35 101.90,368.93 102.52,368.50 103.13,368.04 103.75,367.57 104.37,367.08 104.99,366.57 105.61,366.05 106.23,365.51 106.85,364.96 107.47,364.40 108.09,363.83 108.70,363.25 109.32,362.67 109.94,362.09 110.56,361.51 111.18,360.94 111.80,360.37 112.42,359.81 113.04,359.27 113.66,358.74 114.28,358.24 114.90,357.76 115.51,357.30 116.13,356.87 116.75,356.47 117.37,356.11 117.99,355.78 118.61,355.50 119.23,355.25 119.85,355.05 120.47,354.89 121.09,354.77 121.70,354.70 122.32,354.68 122.94,354.70 123.56,354.77 124.18,354.89 124.80,355.05 125.42,355.25 126.04,355.50 126.66,355.78 127.28,356.11 127.89,356.47 128.51,356.87 129.13,357.30 129.75,357.76 130.37,358.24 130.99,358.74 131.61,359.27 132.23,359.81 132.85,360.37 133.47,360.94 134.08,361.51 134.70,362.09 135.32,362.67 135.94,363.25 136.56,363.83 137.18,364.40 137.80,364.96 138.42,365.51 139.04,366.05 139.66,366.57 140.27,367.08 140.89,367.57 141.51,368.04 142.13,368.50 142.75,368.93 143.37,369.35 143.99,369.74 144.61,370.12 145.23,370.47 145.84,370.80 146.46,371.11 147.08,371.41 147.70,371.68 148.32,371.93 148.94,372.17 149.56,372.38 150.18,372.59 150.80,372.77 151.42,372.94 152.03,373.09 152.65,373.23 153.27,373.36 153.89,373.48 154.51,373.58 155.13,373.68 155.75,373.76 156.37,373.84 156.99,373.91 157.61,373.97 158.22,374.03 158.84,374.07 159.46,374.12 160.08,374.15 160.70,374.19 161.32,374.22 161.94,374.24 162.56,374.26 163.18,374.28 163.80,374.30 164.41,374.32 165.03,374.33 165.65,374.34 166.27,374.35 166.89,374.36 167.51,374.36 168.13,374.37 168.75,374.37 169.37,374.38 169.99,374.38 170.60,374.38 171.22,374.39 171.84,374.39 172.46,374.39 173.08,374.39 173.70,374.39L173.70,374.40Z" fill="rgb(13,77,171)" fill-opacity="0.476"/>
<polyline points="49.90,373.71 50.52,373.60 51.14,373.48 51.76,373.34 52.38,373.19 52.99,373.02 53.61,372.82 54.23,372.60 54.85,372.36 55.47,372.09 56.09,371.79 56.71,371.45 57.33,371.09 57.95,370.68 58.57,370.24 59.19,369.75 59.80,369.22 60.42,368.64 61.04,368.01 61.66,367.34 62.28,366.60 62.90,365.81 63.52,364.97 64.14,364.06 64.76,363.09 65.38,362.07 65.99,360.98 66.61,359.83 67.23,358.62 67.85,357.34 68.47,356.01 69.09,354.62 69.71,353.18 70.33,351.68 70.95,350.14 71.56,348.55 72.18,346.92 72.80,345.26 73.42,343.57 74.04,341.86 74.66,340.13 75.28,338.40 75.90,336.67 76.52,334.94 77.14,333.24 77.75,331.56 78.37,329.92 78.99,328.32 79.61,326.78 80.23,325.30 80.85,323.89 81.47,322.56 82.09,321.32 82.71,320.18 83.33,319.14 83.94,318.20 84.56,317.39 85.18,316.69 85.80,316.12 86.42,315.67 87.04,315.36 87.66,315.17 88.28,315.12 88.90,315.19 89.52,315.39 90.13,315.72 90.75,316.18 91.37,316.74 91.99,317.42 92.61,318.21 93.23,319.09 93.85,320.06 94.47,321.12 95.09,322.25 95.71,323.44 96.32,324.69 96.94,325.98 97.56,327.30 98.18,328.65 98.80,330.02 99.42,331.39 100.04,332.75 100.66,334.11 101.28,335.44 101.90,336.75 102.52,338.02 103.13,339.25 103.75,340.43 104.37,341.55 104.99,342.62 105.61,343.63 106.23,344.58 106.85,345.46 107.47,346.28 108.09,347.03 108.70,347.71 109.32,348.33 109.94,348.89 110.56,349.39 111.18,349.83 111.80,350.22 112.42,350.55 113.04,350.85 113.66,351.10 114.28,351.31 114.90,351.50 115.51,351.66 116.13,351.80 116.75,351.93 117.37,352.04 117.99,352.15 118.61,352.26 119.23,352.37 119.85,352.50 120.47,352.63 121.09,352.78 121.70,352.95 122.32,353.14 122.94,353.35 123.56,353.59 124.18,353.86 124.80,354.15 125.42,354.47 126.04,354.83 126.66,355.20 127.28,355.61 127.89,356.04 128.51,356.50 129.13,356.98 129.75,357.49 130.37,358.01 130.99,358.55 131.61,359.11 132.23,359.67 132.85,360.25 133.47,360.84 134.08,361.43 134.70,362.02 135.32,362.61 135.94,363.20 136.56,363.78 137.18,364.36 137.80,364.93 138.42,365.48 139.04,366.03 139.66,366.55 140.27,367.07 140.89,367.56 141.51,368.04 142.13,368.49 142.75,368.93 143.37,369.34 143.99,369.74 144.61,370.11 145.23,370.47 145.84,370.80 146.46,371.11 147.08,371.40 147.70,371.68 148.32,371.93 148.94,372.17 149.56,372.38 150.18,372.59 150.80,372.77 151.42,372.94 152.03,373.09 152.65,373.23 153.27,373.36 153.89,373.48 154.51,373.58 155.13,373.68 155.75,373.76 156.37,373.84 156.99,373.91 157.61,373.97 158.22,374.03 158.84,374.07 159.46,374.12 160.08,374.15 160.70,374.19 161.32,374.22 161.94,374.24 162.56,374.26 163.18,374.28 163.80,374.30 164.41,374.32 165.03,374.33 165.65,374.34 166.27,374.35 166.89,374.36 167.51,374.36 168.13,374.37 168.75,374.37 169.37,374.38 169.99,374.38 170.60,374.38 171.22,374.39 171.84,374.39 172.46,374.39 173.08,374.39 173.70,374.39" fill="none" stroke="#111" stroke-width="1.2" stroke-linejoin="round"/>
<path d="M49.90 270.60V374.40H173.70" fill="none" stroke="#222" stroke-width="1.4"/>
<path d="M46.30 374.40H49.90M47.60 364.02H49.90M46.30 353.64H49.90M47.60 343.26H49.90M46.30 332.88H49.90M47.60 322.50H49.90M46.30 312.12H49.90M47.60 301.74H49.90M46.30 291.36H49.90M47.60 280.98H49.90M46.30 270.60H49.90M49.90 374.40V376.80M62.28 374.40V376.80M74.66 374.40V376.80M87.04 374.40V376.80M99.42 374.40V376.80M111.80 374.40V376.80M124.18 374.40V376.80M136.56 374.40V376.80M148.94 374.40V376.80M161.32 374.40V376.80M173.70 374.40V376.80" fill="none" stroke="#222" stroke-width="0.9"/>
<text x="41.10" y="377.60" font-family="Liberation Sans" font-size="9" text-anchor="end" fill="#222" stroke="#222" stroke-width="0.22">0.00</text>
<text x="41.10" y="356.84" font-family="Liberation Sans" font-size="9" text-anchor="end" fill="#222" stroke="#222" stroke-width="0.22">0.01</text>
<text x="41.10" y="336.08" font-family="Liberation Sans" font-size="9" text-anchor="end" fill="#222" stroke="#222" stroke-width="0.22">0.02</text>
<text x="41.10" y="315.32" font-family="Liberation Sans" font-size="9" text-anchor="end" fill="#222" stroke="#222" stroke-width="0.22">0.03</text>
<text x="41.10" y="294.56" font-family="Liberation Sans" font-size="9" text-anchor="end" fill="#222" stroke="#222" stroke-width="0.22">0.04</text>
<text x="41.10" y="273.80" font-family="Liberation Sans" font-size="9" text-anchor="end" fill="#222" stroke="#222" stroke-width="0.22">0.05</text>
<text transform="translate(12.80,322.50) rotate(-90)" font-family="Liberation Sans" font-size="11.8" text-anchor="middle" fill="#222" stroke="#222" stroke-width="0.22">probability</text>
<text x="0.5" y="266.70000000000005" font-family="Liberation Sans" font-size="16.2" fill="#111" stroke="#111" stroke-width="0.22">d</text>
<text x="127.60" y="277.30" font-family="Liberation Sans" font-size="13.4" fill="#e8202a" stroke="#e8202a" stroke-width="0.22">+ 50nM peptide</text>
<text x="142.50" y="294.60" font-family="Liberation Sans" font-size="12" fill="#e8202a" stroke="#e8202a" stroke-width="0.22">P<tspan font-size="7.0" dy="2.2">low</tspan><tspan dy="-2.2" dx="0.9">:</tspan></text>
<text x="172.50" y="294.60" font-family="Liberation Sans" font-size="12" fill="#e8202a" stroke="#e8202a" stroke-width="0.22">74.6%</text>
<text x="142.50" y="310.70" font-family="Liberation Sans" font-size="12" fill="#2b3090" stroke="#2b3090" stroke-width="0.22">P<tspan font-size="7.0" dy="2.2">high</tspan><tspan dy="-2.2" dx="0.9">:</tspan></text>
<text x="175.00" y="310.70" font-family="Liberation Sans" font-size="12" fill="#2b3090" stroke="#2b3090" stroke-width="0.22">25.4%</text>
<path d="M49.40 514.40V510.25H51.88V514.40M51.88 514.40V505.27H54.35V514.40M54.35 514.40V503.81H56.83V514.40M56.83 514.40V498.62H59.30V514.40M59.30 514.40V494.68H61.78V514.40M61.78 514.40V491.56H64.26V514.40M64.26 514.40V496.34H66.73V514.40M66.73 514.40V465.20H69.21V514.40M69.21 514.40V466.65H71.68V514.40M71.68 514.40V458.35H74.16V514.40M74.16 514.40V450.04H76.64V514.40M76.64 514.40V430.94H79.11V514.40M79.11 514.40V457.31H81.59V514.40M81.59 514.40V422.23H84.06V514.40M84.06 514.40V464.37H86.54V514.40M86.54 514.40V414.34H89.02V514.40M89.02 514.40V452.12H91.49V514.40M91.49 514.40V480.35H93.97V514.40M93.97 514.40V468.73H96.44V514.40M96.44 514.40V496.34H98.92V514.40M98.92 514.40V492.39H101.40V514.40M101.40 514.40V488.66H103.87V514.40M103.87 514.40V489.49H106.35V514.40M106.35 514.40V500.08H108.82V514.40M108.82 514.40V496.55H111.30V514.40M111.30 514.40V499.87H113.78V514.40M113.78 514.40V501.32H116.25V514.40M116.25 514.40V499.66H118.73V514.40M118.73 514.40V497.17H121.20V514.40M121.20 514.40V497.17H123.68V514.40M123.68 514.40V502.77H126.16V514.40M126.16 514.40V504.02H128.63V514.40M128.63 514.40V504.02H131.11V514.40M131.11 514.40V504.44H133.58V514.40M133.58 514.40V504.44H136.06V514.40M136.06 514.40V509.00H138.54V514.40M138.54 514.40V510.25H141.01V514.40M141.01 514.40V511.70H143.49V514.40M143.49 514.40V511.70H145.96V514.40M145.96 514.40V512.32H148.44V514.40M148.44 514.40V513.36H150.92V514.40M150.92 514.40V513.98H153.39V514.40M153.39 514.40V513.85H155.87V514.40M155.87 514.40V514.06H158.34V514.40M158.34 514.40V514.20H160.82V514.40M160.82 514.40V514.29H163.30V514.40M163.30 514.40V514.34H165.77V514.40M165.77 514.40V514.37H168.25V514.40M168.25 514.40V514.38H170.72V514.40M170.72 514.40V514.39H173.20V514.40" fill="#fff" stroke="#858585" stroke-width="0.8"/>
<path d="M49.90,514.40L49.90,512.87 50.52,512.65 51.14,512.40 51.76,512.11 52.38,511.80 52.99,511.44 53.61,511.05 54.23,510.61 54.85,510.13 55.47,509.60 56.09,509.02 56.71,508.38 57.33,507.68 57.95,506.92 58.57,506.09 59.19,505.20 59.80,504.23 60.42,503.19 61.04,502.08 61.66,500.89 62.28,499.62 62.90,498.27 63.52,496.85 64.14,495.34 64.76,493.76 65.38,492.10 65.99,490.37 66.61,488.57 67.23,486.70 67.85,484.78 68.47,482.80 69.09,480.77 69.71,478.70 70.33,476.59 70.95,474.46 71.56,472.32 72.18,470.17 72.80,468.04 73.42,465.91 74.04,463.82 74.66,461.77 75.28,459.77 75.90,457.84 76.52,455.99 77.14,454.22 77.75,452.56 78.37,451.01 78.99,449.58 79.61,448.29 80.23,447.14 80.85,446.14 81.47,445.30 82.09,444.62 82.71,444.12 83.33,443.78 83.94,443.62 84.56,443.64 85.18,443.83 85.80,444.20 86.42,444.75 87.04,445.46 87.66,446.33 88.28,447.36 88.90,448.54 89.52,449.86 90.13,451.31 90.75,452.88 91.37,454.57 91.99,456.35 92.61,458.22 93.23,460.17 93.85,462.18 94.47,464.24 95.09,466.34 95.71,468.46 96.32,470.60 96.94,472.75 97.56,474.89 98.18,477.01 98.80,479.11 99.42,481.18 100.04,483.20 100.66,485.17 101.28,487.08 101.90,488.94 102.52,490.72 103.13,492.44 103.75,494.08 104.37,495.65 104.99,497.14 105.61,498.55 106.23,499.88 106.85,501.13 107.47,502.31 108.09,503.41 108.70,504.43 109.32,505.38 109.94,506.26 110.56,507.08 111.18,507.82 111.80,508.51 112.42,509.14 113.04,509.71 113.66,510.23 114.28,510.70 114.90,511.13 115.51,511.52 116.13,511.86 116.75,512.17 117.37,512.45 117.99,512.70 118.61,512.91 119.23,513.11 119.85,513.28 120.47,513.43 121.09,513.57 121.70,513.68 122.32,513.78 122.94,513.87 123.56,513.95 124.18,514.02 124.80,514.07 125.42,514.12 126.04,514.17 126.66,514.20 127.28,514.23 127.89,514.26 128.51,514.28 129.13,514.30 129.75,514.32 130.37,514.33 130.99,514.34 131.61,514.35 132.23,514.36 132.85,514.37 133.47,514.37 134.08,514.38 134.70,514.38 135.32,514.39 135.94,514.39 136.56,514.39 137.18,514.39 137.80,514.39 138.42,514.40 139.04,514.40 139.66,514.40 140.27,514.40 140.89,514.40 141.51,514.40 142.13,514.40 142.75,514.40 143.37,514.40 143.99,514.40 144.61,514.40 145.23,514.40 145.84,514.40 146.46,514.40 147.08,514.40 147.70,514.40 148.32,514.40 148.94,514.40 149.56,514.40 150.18,514.40 150.80,514.40 151.42,514.40 152.03,514.40 152.65,514.40 153.27,514.40 153.89,514.40 154.51,514.40 155.13,514.40 155.75,514.40 156.37,514.40 156.99,514.40 157.61,514.40 158.22,514.40 158.84,514.40 159.46,514.40 160.08,514.40 160.70,514.40 161.32,514.40 161.94,514.40 162.56,514.40 163.18,514.40 163.80,514.40 164.41,514.40 165.03,514.40 165.65,514.40 166.27,514.40 166.89,514.40 167.51,514.40 168.13,514.40 168.75,514.40 169.37,514.40 169.99,514.40 170.60,514.40 171.22,514.40 171.84,514.40 172.46,514.40 173.08,514.40 173.70,514.40L173.70,514.40Z" fill="rgb(235,45,40)" fill-opacity="0.5"/>
<path d="M49.90,514.40L49.90,514.40 50.52,514.40 51.14,514.40 51.76,514.40 52.38,514.40 52.99,514.40 53.61,514.40 54.23,514.40 54.85,514.40 55.47,514.40 56.09,514.40 56.71,514.40 57.33,514.40 57.95,514.40 58.57,514.40 59.19,514.40 59.80,514.40 60.42,514.40 61.04,514.40 61.66,514.40 62.28,514.40 62.90,514.40 63.52,514.40 64.14,514.40 64.76,514.40 65.38,514.40 65.99,514.40 66.61,514.40 67.23,514.40 67.85,514.40 68.47,514.40 69.09,514.40 69.71,514.40 70.33,514.40 70.95,514.40 71.56,514.40 72.18,514.40 72.80,514.39 73.42,514.39 74.04,514.39 74.66,514.39 75.28,514.39 75.90,514.39 76.52,514.39 77.14,514.38 77.75,514.38 78.37,514.38 78.99,514.37 79.61,514.37 80.23,514.36 80.85,514.35 81.47,514.34 82.09,514.33 82.71,514.32 83.33,514.31 83.94,514.30 84.56,514.28 85.18,514.26 85.80,514.24 86.42,514.22 87.04,514.19 87.66,514.16 88.28,514.13 88.90,514.09 89.52,514.04 90.13,514.00 90.75,513.94 91.37,513.89 91.99,513.82 92.61,513.75 93.23,513.67 93.85,513.59 94.47,513.49 95.09,513.39 95.71,513.28 96.32,513.16 96.94,513.03 97.56,512.88 98.18,512.73 98.80,512.57 99.42,512.40 100.04,512.21 100.66,512.01 101.28,511.80 101.90,511.58 102.52,511.35 103.13,511.11 103.75,510.85 104.37,510.59 104.99,510.31 105.61,510.02 106.23,509.73 106.85,509.42 107.47,509.11 108.09,508.79 108.70,508.47 109.32,508.14 109.94,507.81 110.56,507.47 111.18,507.14 111.80,506.81 112.42,506.48 113.04,506.16 113.66,505.84 114.28,505.54 114.90,505.24 115.51,504.95 116.13,504.68 116.75,504.42 117.37,504.18 117.99,503.96 118.61,503.76 119.23,503.58 119.85,503.42 120.47,503.28 121.09,503.17 121.70,503.08 122.32,503.02 122.94,502.99 123.56,502.98 124.18,503.00 124.80,503.05 125.42,503.12 126.04,503.21 126.66,503.33 127.28,503.48 127.89,503.65 128.51,503.84 129.13,504.05 129.75,504.28 130.37,504.52 130.99,504.79 131.61,505.06 132.23,505.36 132.85,505.66 133.47,505.97 134.08,506.29 134.70,506.61 135.32,506.94 135.94,507.27 136.56,507.61 137.18,507.94 137.80,508.27 138.42,508.60 139.04,508.92 139.66,509.24 140.27,509.54 140.89,509.85 141.51,510.14 142.13,510.42 142.75,510.69 143.37,510.96 143.99,511.21 144.61,511.45 145.23,511.67 145.84,511.89 146.46,512.09 147.08,512.29 147.70,512.47 148.32,512.64 148.94,512.79 149.56,512.94 150.18,513.08 150.80,513.21 151.42,513.32 152.03,513.43 152.65,513.53 153.27,513.62 153.89,513.70 154.51,513.78 155.13,513.85 155.75,513.91 156.37,513.97 156.99,514.02 157.61,514.06 158.22,514.10 158.84,514.14 159.46,514.17 160.08,514.20 160.70,514.23 161.32,514.25 161.94,514.27 162.56,514.29 163.18,514.30 163.80,514.32 164.41,514.33 165.03,514.34 165.65,514.35 166.27,514.35 166.89,514.36 167.51,514.37 168.13,514.37 168.75,514.38 169.37,514.38 169.99,514.38 170.60,514.39 171.22,514.39 171.84,514.39 172.46,514.39 173.08,514.39 173.70,514.39L173.70,514.40Z" fill="rgb(13,77,171)" fill-opacity="0.476"/>
<polyline points="49.90,512.87 50.52,512.65 51.14,512.40 51.76,512.11 52.38,511.80 52.99,511.44 53.61,511.05 54.23,510.61 54.85,510.13 55.47,509.60 56.09,509.02 56.71,508.38 57.33,507.68 57.95,506.92 58.57,506.09 59.19,505.20 59.80,504.23 60.42,503.19 61.04,502.08 61.66,500.89 62.28,499.62 62.90,498.27 63.52,496.85 64.14,495.34 64.76,493.76 65.38,492.10 65.99,490.37 66.61,488.57 67.23,486.70 67.85,484.78 68.47,482.79 69.09,480.76 69.71,478.69 70.33,476.59 70.95,474.46 71.56,472.32 72.18,470.17 72.80,468.03 73.42,465.91 74.04,463.81 74.66,461.76 75.28,459.76 75.90,457.83 76.52,455.97 77.14,454.21 77.75,452.54 78.37,450.99 78.99,449.56 79.61,448.26 80.23,447.10 80.85,446.09 81.47,445.24 82.09,444.56 82.71,444.04 83.33,443.69 83.94,443.52 84.56,443.52 85.18,443.70 85.80,444.04 86.42,444.56 87.04,445.25 87.66,446.09 88.28,447.09 88.90,448.23 89.52,449.50 90.13,450.91 90.75,452.43 91.37,454.05 91.99,455.77 92.61,457.57 93.23,459.44 93.85,461.36 94.47,463.33 95.09,465.32 95.71,467.34 96.32,469.36 96.94,471.38 97.56,473.37 98.18,475.35 98.80,477.28 99.42,479.17 100.04,481.01 100.66,482.78 101.28,484.49 101.90,486.12 102.52,487.67 103.13,489.15 103.75,490.53 104.37,491.83 104.99,493.05 105.61,494.17 106.23,495.21 106.85,496.15 107.47,497.02 108.09,497.80 108.70,498.50 109.32,499.12 109.94,499.67 110.56,500.15 111.18,500.57 111.80,500.92 112.42,501.22 113.04,501.47 113.66,501.68 114.28,501.84 114.90,501.97 115.51,502.07 116.13,502.14 116.75,502.19 117.37,502.23 117.99,502.25 118.61,502.27 119.23,502.29 119.85,502.30 120.47,502.31 121.09,502.34 121.70,502.37 122.32,502.41 122.94,502.46 123.56,502.53 124.18,502.62 124.80,502.72 125.42,502.84 126.04,502.98 126.66,503.14 127.28,503.31 127.89,503.51 128.51,503.72 129.13,503.95 129.75,504.19 130.37,504.46 130.99,504.73 131.61,505.02 132.23,505.32 132.85,505.63 133.47,505.94 134.08,506.27 134.70,506.60 135.32,506.93 135.94,507.26 136.56,507.60 137.18,507.93 137.80,508.26 138.42,508.59 139.04,508.92 139.66,509.23 140.27,509.54 140.89,509.84 141.51,510.14 142.13,510.42 142.75,510.69 143.37,510.95 143.99,511.21 144.61,511.44 145.23,511.67 145.84,511.89 146.46,512.09 147.08,512.29 147.70,512.47 148.32,512.64 148.94,512.79 149.56,512.94 150.18,513.08 150.80,513.21 151.42,513.32 152.03,513.43 152.65,513.53 153.27,513.62 153.89,513.70 154.51,513.78 155.13,513.85 155.75,513.91 156.37,513.97 156.99,514.02 157.61,514.06 158.22,514.10 158.84,514.14 159.46,514.17 160.08,514.20 160.70,514.23 161.32,514.25 161.94,514.27 162.56,514.29 163.18,514.30 163.80,514.32 164.41,514.33 165.03,514.34 165.65,514.35 166.27,514.35 166.89,514.36 167.51,514.37 168.13,514.37 168.75,514.38 169.37,514.38 169.99,514.38 170.60,514.39 171.22,514.39 171.84,514.39 172.46,514.39 173.08,514.39 173.70,514.39" fill="none" stroke="#111" stroke-width="1.2" stroke-linejoin="round"/>
<path d="M49.90 410.60V514.40H173.70" fill="none" stroke="#222" stroke-width="1.4"/>
<path d="M46.30 514.40H49.90M47.60 504.02H49.90M46.30 493.64H49.90M47.60 483.26H49.90M46.30 472.88H49.90M47.60 462.50H49.90M46.30 452.12H49.90M47.60 441.74H49.90M46.30 431.36H49.90M47.60 420.98H49.90M46.30 410.60H49.90M49.90 514.40V516.80M62.28 514.40V516.80M74.66 514.40V516.80M87.04 514.40V516.80M99.42 514.40V516.80M111.80 514.40V516.80M124.18 514.40V516.80M136.56 514.40V516.80M148.94 514.40V516.80M161.32 514.40V516.80M173.70 514.40V516.80" fill="none" stroke="#222" stroke-width="0.9"/>
<text x="41.10" y="517.60" font-family="Liberation Sans" font-size="9" text-anchor="end" fill="#222" stroke="#222" stroke-width="0.22">0.00</text>
<text x="41.10" y="496.84" font-family="Liberation Sans" font-size="9" text-anchor="end" fill="#222" stroke="#222" stroke-width="0.22">0.01</text>
<text x="41.10" y="476.08" font-family="Liberation Sans" font-size="9" text-anchor="end" fill="#222" stroke="#222" stroke-width="0.22">0.02</text>
<text x="41.10" y="455.32" font-family="Liberation Sans" font-size="9" text-anchor="end" fill="#222" stroke="#222" stroke-width="0.22">0.03</text>
<text x="41.10" y="434.56" font-family="Liberation Sans" font-size="9" text-anchor="end" fill="#222" stroke="#222" stroke-width="0.22">0.04</text>
<text x="41.10" y="413.80" font-family="Liberation Sans" font-size="9" text-anchor="end" fill="#222" stroke="#222" stroke-width="0.22">0.05</text>
<text transform="translate(12.80,462.50) rotate(-90)" font-family="Liberation Sans" font-size="11.8" text-anchor="middle" fill="#222" stroke="#222" stroke-width="0.22">probability</text>
<text x="0.5" y="404.1" font-family="Liberation Sans" font-size="16.2" fill="#111" stroke="#111" stroke-width="0.22">e</text>
<text x="123.60" y="418.90" font-family="Liberation Sans" font-size="13.4" fill="#e8202a" stroke="#e8202a" stroke-width="0.22">+200 nM peptide</text>
<text x="142.50" y="435.60" font-family="Liberation Sans" font-size="12" fill="#e8202a" stroke="#e8202a" stroke-width="0.22">P<tspan font-size="7.0" dy="2.2">low</tspan><tspan dy="-2.2" dx="0.9">:</tspan></text>
<text x="172.50" y="435.60" font-family="Liberation Sans" font-size="12" fill="#e8202a" stroke="#e8202a" stroke-width="0.22">85.7%</text>
<text x="142.50" y="452.50" font-family="Liberation Sans" font-size="12" fill="#2b3090" stroke="#2b3090" stroke-width="0.22">P<tspan font-size="7.0" dy="2.2">high</tspan><tspan dy="-2.2" dx="0.9">:</tspan></text>
<text x="175.00" y="452.50" font-family="Liberation Sans" font-size="12" fill="#2b3090" stroke="#2b3090" stroke-width="0.22">14.3%</text>
<path d="M49.40 655.10V654.06H51.88V655.10M51.88 655.10V650.12H54.35V655.10M54.35 655.10V644.93H56.83V655.10M56.83 655.10V638.08H59.30V655.10M59.30 655.10V635.79H61.78V655.10M61.78 655.10V625.83H64.26V655.10M64.26 655.10V632.06H66.73V655.10M66.73 655.10V619.81H69.21V655.10M69.21 655.10V611.50H71.68V655.10M71.68 655.10V618.35H74.16V655.10M74.16 655.10V603.20H76.64V655.10M76.64 655.10V594.07H79.11V655.10M79.11 655.10V603.20H81.59V655.10M81.59 655.10V597.80H84.06V655.10M84.06 655.10V590.74H86.54V655.10M86.54 655.10V611.50H89.02V655.10M89.02 655.10V575.59H91.49V655.10M91.49 655.10V598.22H93.97V655.10M93.97 655.10V565.21H96.44V655.10M96.44 655.10V602.37H98.92V655.10M98.92 655.10V609.43H101.40V655.10M101.40 655.10V631.23H103.87V655.10M103.87 655.10V625.21H106.35V655.10M106.35 655.10V635.79H108.82V655.10M108.82 655.10V631.43H111.30V655.10M111.30 655.10V635.38H113.78V655.10M113.78 655.10V639.53H116.25V655.10M116.25 655.10V641.61H118.73V655.10M118.73 655.10V644.30H121.20V655.10M121.20 655.10V646.38H123.68V655.10M123.68 655.10V647.21H126.16V655.10M126.16 655.10V648.04H128.63V655.10M128.63 655.10V647.83H131.11V655.10M131.11 655.10V648.46H133.58V655.10M133.58 655.10V649.29H136.06V655.10M136.06 655.10V651.16H138.54V655.10M138.54 655.10V652.19H141.01V655.10M141.01 655.10V653.02H143.49V655.10M143.49 655.10V653.65H145.96V655.10M145.96 655.10V654.27H148.44V655.10M148.44 655.10V654.68H150.92V655.10M150.92 655.10V654.41H153.39V655.10M153.39 655.10V654.69H155.87V655.10M155.87 655.10V654.87H158.34V655.10M158.34 655.10V654.98H160.82V655.10M160.82 655.10V655.04H163.30V655.10M163.30 655.10V655.07H165.77V655.10M165.77 655.10V655.09H168.25V655.10M168.25 655.10V655.09H170.72V655.10M170.72 655.10V655.10H173.20V655.10" fill="#fff" stroke="#858585" stroke-width="0.8"/>
<path d="M49.90,655.10L49.90,652.88 50.52,652.63 51.14,652.35 51.76,652.04 52.38,651.71 52.99,651.35 53.61,650.96 54.23,650.53 54.85,650.07 55.47,649.57 56.09,649.03 56.71,648.45 57.33,647.83 57.95,647.17 58.57,646.46 59.19,645.71 59.80,644.90 60.42,644.05 61.04,643.15 61.66,642.19 62.28,641.19 62.90,640.13 63.52,639.02 64.14,637.86 64.76,636.65 65.38,635.38 65.99,634.07 66.61,632.71 67.23,631.30 67.85,629.85 68.47,628.36 69.09,626.83 69.71,625.27 70.33,623.68 70.95,622.06 71.56,620.41 72.18,618.75 72.80,617.08 73.42,615.40 74.04,613.71 74.66,612.04 75.28,610.37 75.90,608.72 76.52,607.10 77.14,605.50 77.75,603.95 78.37,602.44 78.99,600.97 79.61,599.57 80.23,598.23 80.85,596.96 81.47,595.77 82.09,594.66 82.71,593.64 83.33,592.71 83.94,591.88 84.56,591.15 85.18,590.52 85.80,590.01 86.42,589.61 87.04,589.32 87.66,589.14 88.28,589.08 88.90,589.14 89.52,589.32 90.13,589.61 90.75,590.01 91.37,590.52 91.99,591.15 92.61,591.88 93.23,592.71 93.85,593.64 94.47,594.66 95.09,595.77 95.71,596.96 96.32,598.23 96.94,599.57 97.56,600.97 98.18,602.44 98.80,603.95 99.42,605.50 100.04,607.10 100.66,608.72 101.28,610.37 101.90,612.04 102.52,613.71 103.13,615.40 103.75,617.08 104.37,618.75 104.99,620.41 105.61,622.06 106.23,623.68 106.85,625.27 107.47,626.83 108.09,628.36 108.70,629.85 109.32,631.30 109.94,632.71 110.56,634.07 111.18,635.38 111.80,636.65 112.42,637.86 113.04,639.02 113.66,640.13 114.28,641.19 114.90,642.19 115.51,643.15 116.13,644.05 116.75,644.90 117.37,645.71 117.99,646.46 118.61,647.17 119.23,647.83 119.85,648.45 120.47,649.03 121.09,649.57 121.70,650.07 122.32,650.53 122.94,650.96 123.56,651.35 124.18,651.71 124.80,652.04 125.42,652.35 126.04,652.63 126.66,652.88 127.28,653.11 127.89,653.32 128.51,653.52 129.13,653.69 129.75,653.84 130.37,653.99 130.99,654.11 131.61,654.23 132.23,654.33 132.85,654.42 133.47,654.50 134.08,654.57 134.70,654.64 135.32,654.70 135.94,654.75 136.56,654.79 137.18,654.83 137.80,654.87 138.42,654.90 139.04,654.93 139.66,654.95 140.27,654.97 140.89,654.99 141.51,655.00 142.13,655.02 142.75,655.03 143.37,655.04 143.99,655.05 144.61,655.06 145.23,655.06 145.84,655.07 146.46,655.07 147.08,655.08 147.70,655.08 148.32,655.08 148.94,655.09 149.56,655.09 150.18,655.09 150.80,655.09 151.42,655.09 152.03,655.09 152.65,655.10 153.27,655.10 153.89,655.10 154.51,655.10 155.13,655.10 155.75,655.10 156.37,655.10 156.99,655.10 157.61,655.10 158.22,655.10 158.84,655.10 159.46,655.10 160.08,655.10 160.70,655.10 161.32,655.10 161.94,655.10 162.56,655.10 163.18,655.10 163.80,655.10 164.41,655.10 165.03,655.10 165.65,655.10 166.27,655.10 166.89,655.10 167.51,655.10 168.13,655.10 168.75,655.10 169.37,655.10 169.99,655.10 170.60,655.10 171.22,655.10 171.84,655.10 172.46,655.10 173.08,655.10 173.70,655.10L173.70,655.10Z" fill="rgb(235,45,40)" fill-opacity="0.5"/>
<path d="M49.90,655.10L49.90,655.10 50.52,655.10 51.14,655.10 51.76,655.10 52.38,655.10 52.99,655.10 53.61,655.10 54.23,655.10 54.85,655.10 55.47,655.10 56.09,655.10 56.71,655.10 57.33,655.10 57.95,655.10 58.57,655.10 59.19,655.10 59.80,655.10 60.42,655.10 61.04,655.10 61.66,655.10 62.28,655.10 62.90,655.10 63.52,655.10 64.14,655.10 64.76,655.10 65.38,655.10 65.99,655.10 66.61,655.10 67.23,655.10 67.85,655.10 68.47,655.10 69.09,655.10 69.71,655.10 70.33,655.10 70.95,655.10 71.56,655.10 72.18,655.10 72.80,655.10 73.42,655.10 74.04,655.10 74.66,655.10 75.28,655.10 75.90,655.10 76.52,655.10 77.14,655.10 77.75,655.09 78.37,655.09 78.99,655.09 79.61,655.09 80.23,655.09 80.85,655.09 81.47,655.09 82.09,655.08 82.71,655.08 83.33,655.08 83.94,655.07 84.56,655.07 85.18,655.06 85.80,655.06 86.42,655.05 87.04,655.04 87.66,655.03 88.28,655.02 88.90,655.01 89.52,654.99 90.13,654.98 90.75,654.96 91.37,654.94 91.99,654.92 92.61,654.90 93.23,654.87 93.85,654.84 94.47,654.81 95.09,654.77 95.71,654.73 96.32,654.69 96.94,654.64 97.56,654.59 98.18,654.53 98.80,654.47 99.42,654.41 100.04,654.33 100.66,654.26 101.28,654.17 101.90,654.08 102.52,653.99 103.13,653.89 103.75,653.78 104.37,653.67 104.99,653.55 105.61,653.42 106.23,653.29 106.85,653.15 107.47,653.01 108.09,652.86 108.70,652.70 109.32,652.54 109.94,652.37 110.56,652.21 111.18,652.03 111.80,651.86 112.42,651.68 113.04,651.50 113.66,651.32 114.28,651.14 114.90,650.96 115.51,650.79 116.13,650.61 116.75,650.44 117.37,650.27 117.99,650.11 118.61,649.96 119.23,649.81 119.85,649.67 120.47,649.54 121.09,649.42 121.70,649.31 122.32,649.21 122.94,649.12 123.56,649.05 124.18,648.98 124.80,648.94 125.42,648.90 126.04,648.88 126.66,648.87 127.28,648.88 127.89,648.90 128.51,648.94 129.13,648.98 129.75,649.05 130.37,649.12 130.99,649.21 131.61,649.31 132.23,649.42 132.85,649.54 133.47,649.67 134.08,649.81 134.70,649.96 135.32,650.11 135.94,650.27 136.56,650.44 137.18,650.61 137.80,650.79 138.42,650.96 139.04,651.14 139.66,651.32 140.27,651.50 140.89,651.68 141.51,651.86 142.13,652.03 142.75,652.21 143.37,652.37 143.99,652.54 144.61,652.70 145.23,652.86 145.84,653.01 146.46,653.15 147.08,653.29 147.70,653.42 148.32,653.55 148.94,653.67 149.56,653.78 150.18,653.89 150.80,653.99 151.42,654.08 152.03,654.17 152.65,654.26 153.27,654.33 153.89,654.41 154.51,654.47 155.13,654.53 155.75,654.59 156.37,654.64 156.99,654.69 157.61,654.73 158.22,654.77 158.84,654.81 159.46,654.84 160.08,654.87 160.70,654.90 161.32,654.92 161.94,654.94 162.56,654.96 163.18,654.98 163.80,654.99 164.41,655.01 165.03,655.02 165.65,655.03 166.27,655.04 166.89,655.05 167.51,655.06 168.13,655.06 168.75,655.07 169.37,655.07 169.99,655.08 170.60,655.08 171.22,655.08 171.84,655.09 172.46,655.09 173.08,655.09 173.70,655.09L173.70,655.10Z" fill="rgb(13,77,171)" fill-opacity="0.476"/>
<polyline points="49.90,652.88 50.52,652.63 51.14,652.35 51.76,652.04 52.38,651.71 52.99,651.35 53.61,650.96 54.23,650.53 54.85,650.07 55.47,649.57 56.09,649.03 56.71,648.45 57.33,647.83 57.95,647.17 58.57,646.46 59.19,645.71 59.80,644.90 60.42,644.05 61.04,643.15 61.66,642.19 62.28,641.19 62.90,640.13 63.52,639.02 64.14,637.86 64.76,636.65 65.38,635.38 65.99,634.07 66.61,632.71 67.23,631.30 67.85,629.85 68.47,628.36 69.09,626.83 69.71,625.27 70.33,623.68 70.95,622.05 71.56,620.41 72.18,618.75 72.80,617.07 73.42,615.39 74.04,613.71 74.66,612.03 75.28,610.37 75.90,608.72 76.52,607.09 77.14,605.50 77.75,603.94 78.37,602.43 78.99,600.97 79.61,599.56 80.23,598.22 80.85,596.95 81.47,595.76 82.09,594.64 82.71,593.62 83.33,592.69 83.94,591.85 84.56,591.12 85.18,590.49 85.80,589.96 86.42,589.55 87.04,589.26 87.66,589.07 88.28,589.00 88.90,589.05 89.52,589.21 90.13,589.49 90.75,589.87 91.37,590.37 91.99,590.97 92.61,591.68 93.23,592.48 93.85,593.38 94.47,594.37 95.09,595.44 95.71,596.60 96.32,597.82 96.94,599.11 97.56,600.47 98.18,601.87 98.80,603.32 99.42,604.81 100.04,606.33 100.66,607.88 101.28,609.44 101.90,611.02 102.52,612.60 103.13,614.18 103.75,615.76 104.37,617.32 104.99,618.86 105.61,620.38 106.23,621.86 106.85,623.32 107.47,624.74 108.09,626.12 108.70,627.45 109.32,628.74 109.94,629.99 110.56,631.18 111.18,632.32 111.80,633.40 112.42,634.44 113.04,635.42 113.66,636.35 114.28,637.23 114.90,638.06 115.51,638.83 116.13,639.56 116.75,640.24 117.37,640.88 117.99,641.48 118.61,642.03 119.23,642.54 119.85,643.02 120.47,643.47 121.09,643.89 121.70,644.28 122.32,644.64 122.94,644.98 123.56,645.30 124.18,645.60 124.80,645.88 125.42,646.15 126.04,646.41 126.66,646.65 127.28,646.89 127.89,647.12 128.51,647.35 129.13,647.57 129.75,647.79 130.37,648.01 130.99,648.22 131.61,648.43 132.23,648.65 132.85,648.86 133.47,649.07 134.08,649.28 134.70,649.50 135.32,649.71 135.94,649.92 136.56,650.13 137.18,650.34 137.80,650.55 138.42,650.76 139.04,650.97 139.66,651.17 140.27,651.37 140.89,651.57 141.51,651.76 142.13,651.95 142.75,652.14 143.37,652.31 143.99,652.49 144.61,652.66 145.23,652.82 145.84,652.97 146.46,653.12 147.08,653.27 147.70,653.40 148.32,653.53 148.94,653.65 149.56,653.77 150.18,653.88 150.80,653.98 151.42,654.08 152.03,654.17 152.65,654.25 153.27,654.33 153.89,654.40 154.51,654.47 155.13,654.53 155.75,654.59 156.37,654.64 156.99,654.69 157.61,654.73 158.22,654.77 158.84,654.81 159.46,654.84 160.08,654.87 160.70,654.90 161.32,654.92 161.94,654.94 162.56,654.96 163.18,654.98 163.80,654.99 164.41,655.01 165.03,655.02 165.65,655.03 166.27,655.04 166.89,655.05 167.51,655.06 168.13,655.06 168.75,655.07 169.37,655.07 169.99,655.08 170.60,655.08 171.22,655.08 171.84,655.09 172.46,655.09 173.08,655.09 173.70,655.09" fill="none" stroke="#111" stroke-width="1.2" stroke-linejoin="round"/>
<path d="M49.90 551.30V655.10H173.70" fill="none" stroke="#222" stroke-width="1.4"/>
<path d="M46.30 655.10H49.90M47.60 644.72H49.90M46.30 634.34H49.90M47.60 623.96H49.90M46.30 613.58H49.90M47.60 603.20H49.90M46.30 592.82H49.90M47.60 582.44H49.90M46.30 572.06H49.90M47.60 561.68H49.90M46.30 551.30H49.90M49.90 655.10V657.50M62.28 655.10V657.50M74.66 655.10V657.50M87.04 655.10V657.50M99.42 655.10V657.50M111.80 655.10V657.50M124.18 655.10V657.50M136.56 655.10V657.50M148.94 655.10V657.50M161.32 655.10V657.50M173.70 655.10V657.50" fill="none" stroke="#222" stroke-width="0.9"/>
<text x="41.10" y="658.30" font-family="Liberation Sans" font-size="9" text-anchor="end" fill="#222" stroke="#222" stroke-width="0.22">0.00</text>
<text x="41.10" y="637.54" font-family="Liberation Sans" font-size="9" text-anchor="end" fill="#222" stroke="#222" stroke-width="0.22">0.01</text>
<text x="41.10" y="616.78" font-family="Liberation Sans" font-size="9" text-anchor="end" fill="#222" stroke="#222" stroke-width="0.22">0.02</text>
<text x="41.10" y="596.02" font-family="Liberation Sans" font-size="9" text-anchor="end" fill="#222" stroke="#222" stroke-width="0.22">0.03</text>
<text x="41.10" y="575.26" font-family="Liberation Sans" font-size="9" text-anchor="end" fill="#222" stroke="#222" stroke-width="0.22">0.04</text>
<text x="41.10" y="554.50" font-family="Liberation Sans" font-size="9" text-anchor="end" fill="#222" stroke="#222" stroke-width="0.22">0.05</text>
<text transform="translate(12.80,603.20) rotate(-90)" font-family="Liberation Sans" font-size="11.8" text-anchor="middle" fill="#222" stroke="#222" stroke-width="0.22">probability</text>
<text x="49.90" y="667.30" font-family="Liberation Sans" font-size="9" text-anchor="middle" fill="#222" stroke="#222" stroke-width="0.22">0</text>
<text x="74.66" y="667.30" font-family="Liberation Sans" font-size="9" text-anchor="middle" fill="#222" stroke="#222" stroke-width="0.22">20</text>
<text x="99.42" y="667.30" font-family="Liberation Sans" font-size="9" text-anchor="middle" fill="#222" stroke="#222" stroke-width="0.22">40</text>
<text x="124.18" y="667.30" font-family="Liberation Sans" font-size="9" text-anchor="middle" fill="#222" stroke="#222" stroke-width="0.22">60</text>
<text x="148.94" y="667.30" font-family="Liberation Sans" font-size="9" text-anchor="middle" fill="#222" stroke="#222" stroke-width="0.22">80</text>
<text x="173.70" y="667.30" font-family="Liberation Sans" font-size="9" text-anchor="middle" fill="#222" stroke="#222" stroke-width="0.22">100</text>
<text x="114.00" y="681.60" font-family="Liberation Sans" font-size="11.8" text-anchor="middle" fill="#222" stroke="#222" stroke-width="0.22">FRET efficiency (%)</text>
<text x="0.5" y="544.8" font-family="Liberation Sans" font-size="16.2" fill="#111" stroke="#111" stroke-width="0.22">f</text>
<text x="131.90" y="557.30" font-family="Liberation Sans" font-size="13.4" fill="#e8202a" stroke="#e8202a" stroke-width="0.22">+1 µM peptide</text>
<text x="142.50" y="574.80" font-family="Liberation Sans" font-size="12" fill="#e8202a" stroke="#e8202a" stroke-width="0.22">P<tspan font-size="7.0" dy="2.2">low</tspan><tspan dy="-2.2" dx="0.9">:</tspan></text>
<text x="172.50" y="574.80" font-family="Liberation Sans" font-size="12" fill="#e8202a" stroke="#e8202a" stroke-width="0.22">92.3%</text>
<text x="142.50" y="591.20" font-family="Liberation Sans" font-size="12" fill="#2b3090" stroke="#2b3090" stroke-width="0.22">P<tspan font-size="7.0" dy="2.2">high</tspan><tspan dy="-2.2" dx="0.9">:</tspan></text>
<text x="175.00" y="591.20" font-family="Liberation Sans" font-size="12" fill="#2b3090" stroke="#2b3090" stroke-width="0.22">7.7%</text>
<path d="M301.90 237.30V234.81H304.38V237.30M304.38 237.30V233.77H306.85V237.30M306.85 237.30V230.24H309.33V237.30M309.33 237.30V230.66H311.80V237.30M311.80 237.30V226.92H314.28V237.30M314.28 237.30V222.98H316.76V237.30M316.76 237.30V222.98H319.23V237.30M319.23 237.30V220.28H321.71V237.30M321.71 237.30V217.58H324.18V237.30M324.18 237.30V214.26H326.66V237.30M326.66 237.30V206.37H329.14V237.30M329.14 237.30V210.10H331.61V237.30M331.61 237.30V216.96H334.09V237.30M334.09 237.30V208.03H336.56V237.30M336.56 237.30V210.73H339.04V237.30M339.04 237.30V211.56H341.52V237.30M341.52 237.30V207.41H343.99V237.30M343.99 237.30V212.80H346.47V237.30M346.47 237.30V203.25H348.94V237.30M348.94 237.30V207.41H351.42V237.30M351.42 237.30V207.41H353.90V237.30M353.90 237.30V206.16H356.37V237.30M356.37 237.30V201.18H358.85V237.30M358.85 237.30V201.18H361.32V237.30M361.32 237.30V199.93H363.80V237.30M363.80 237.30V192.25H366.28V237.30M366.28 237.30V194.95H368.75V237.30M368.75 237.30V192.25H371.23V237.30M371.23 237.30V192.87H373.70V237.30M373.70 237.30V193.70H376.18V237.30M376.18 237.30V196.40H378.66V237.30M378.66 237.30V197.86H381.13V237.30M381.13 237.30V201.18H383.61V237.30M383.61 237.30V205.33H386.08V237.30M386.08 237.30V208.65H388.56V237.30M388.56 237.30V198.48H391.04V237.30M391.04 237.30V215.71H393.51V237.30M393.51 237.30V214.88H395.99V237.30M395.99 237.30V219.03H398.46V237.30M398.46 237.30V227.34H400.94V237.30M400.94 237.30V231.49H403.42V237.30M403.42 237.30V234.19H405.89V237.30M405.89 237.30V235.43H408.37V237.30M408.37 237.30V236.26H410.84V237.30M410.84 237.30V236.05H413.32V237.30M413.32 237.30V236.54H415.80V237.30M415.80 237.30V236.85H418.27V237.30M418.27 237.30V237.04H420.75V237.30M420.75 237.30V237.15H423.22V237.30M423.22 237.30V237.22H425.70V237.30" fill="#fff" stroke="#858585" stroke-width="0.8"/>
<path d="M302.40,237.30L302.40,236.16 303.02,236.03 303.64,235.89 304.26,235.73 304.88,235.56 305.50,235.38 306.11,235.18 306.73,234.96 307.35,234.72 307.97,234.47 308.59,234.20 309.21,233.91 309.83,233.59 310.45,233.26 311.07,232.90 311.69,232.52 312.30,232.12 312.92,231.70 313.54,231.25 314.16,230.77 314.78,230.28 315.40,229.75 316.02,229.21 316.64,228.64 317.26,228.05 317.88,227.44 318.49,226.81 319.11,226.15 319.73,225.48 320.35,224.79 320.97,224.09 321.59,223.37 322.21,222.64 322.83,221.90 323.45,221.15 324.06,220.40 324.68,219.65 325.30,218.89 325.92,218.14 326.54,217.40 327.16,216.67 327.78,215.94 328.40,215.24 329.02,214.55 329.64,213.89 330.25,213.25 330.87,212.64 331.49,212.06 332.11,211.51 332.73,211.00 333.35,210.54 333.97,210.11 334.59,209.73 335.21,209.39 335.83,209.11 336.44,208.87 337.06,208.68 337.68,208.55 338.30,208.47 338.92,208.44 339.54,208.47 340.16,208.55 340.78,208.68 341.40,208.87 342.02,209.11 342.63,209.39 343.25,209.73 343.87,210.11 344.49,210.54 345.11,211.00 345.73,211.51 346.35,212.06 346.97,212.64 347.59,213.25 348.21,213.89 348.82,214.55 349.44,215.24 350.06,215.94 350.68,216.67 351.30,217.40 351.92,218.14 352.54,218.89 353.16,219.65 353.78,220.40 354.40,221.15 355.01,221.90 355.63,222.64 356.25,223.37 356.87,224.09 357.49,224.79 358.11,225.48 358.73,226.15 359.35,226.81 359.97,227.44 360.59,228.05 361.20,228.64 361.82,229.21 362.44,229.75 363.06,230.28 363.68,230.77 364.30,231.25 364.92,231.70 365.54,232.12 366.16,232.52 366.78,232.90 367.39,233.26 368.01,233.59 368.63,233.91 369.25,234.20 369.87,234.47 370.49,234.72 371.11,234.96 371.73,235.18 372.35,235.38 372.97,235.56 373.58,235.73 374.20,235.89 374.82,236.03 375.44,236.16 376.06,236.28 376.68,236.39 377.30,236.49 377.92,236.58 378.54,236.66 379.16,236.73 379.77,236.80 380.39,236.85 381.01,236.91 381.63,236.95 382.25,237.00 382.87,237.03 383.49,237.07 384.11,237.10 384.73,237.12 385.35,237.14 385.96,237.17 386.58,237.18 387.20,237.20 387.82,237.21 388.44,237.22 389.06,237.23 389.68,237.24 390.30,237.25 390.92,237.26 391.54,237.26 392.15,237.27 392.77,237.27 393.39,237.28 394.01,237.28 394.63,237.28 395.25,237.29 395.87,237.29 396.49,237.29 397.11,237.29 397.73,237.29 398.34,237.29 398.96,237.30 399.58,237.30 400.20,237.30 400.82,237.30 401.44,237.30 402.06,237.30 402.68,237.30 403.30,237.30 403.92,237.30 404.53,237.30 405.15,237.30 405.77,237.30 406.39,237.30 407.01,237.30 407.63,237.30 408.25,237.30 408.87,237.30 409.49,237.30 410.11,237.30 410.72,237.30 411.34,237.30 411.96,237.30 412.58,237.30 413.20,237.30 413.82,237.30 414.44,237.30 415.06,237.30 415.68,237.30 416.30,237.30 416.91,237.30 417.53,237.30 418.15,237.30 418.77,237.30 419.39,237.30 420.01,237.30 420.63,237.30 421.25,237.30 421.87,237.30 422.49,237.30 423.10,237.30 423.72,237.30 424.34,237.30 424.96,237.30 425.58,237.30 426.20,237.30L426.20,237.30Z" fill="rgb(235,45,40)" fill-opacity="0.5"/>
<path d="M302.40,237.30L302.40,237.30 303.02,237.30 303.64,237.30 304.26,237.30 304.88,237.30 305.50,237.30 306.11,237.30 306.73,237.30 307.35,237.30 307.97,237.30 308.59,237.30 309.21,237.30 309.83,237.30 310.45,237.30 311.07,237.30 311.69,237.30 312.30,237.30 312.92,237.30 313.54,237.30 314.16,237.30 314.78,237.30 315.40,237.30 316.02,237.30 316.64,237.30 317.26,237.29 317.88,237.29 318.49,237.29 319.11,237.29 319.73,237.29 320.35,237.29 320.97,237.28 321.59,237.28 322.21,237.28 322.83,237.27 323.45,237.27 324.06,237.26 324.68,237.25 325.30,237.25 325.92,237.24 326.54,237.23 327.16,237.21 327.78,237.20 328.40,237.18 329.02,237.16 329.64,237.14 330.25,237.11 330.87,237.08 331.49,237.05 332.11,237.01 332.73,236.97 333.35,236.92 333.97,236.86 334.59,236.80 335.21,236.73 335.83,236.65 336.44,236.56 337.06,236.46 337.68,236.35 338.30,236.23 338.92,236.09 339.54,235.94 340.16,235.77 340.78,235.58 341.40,235.38 342.02,235.15 342.63,234.90 343.25,234.63 343.87,234.34 344.49,234.02 345.11,233.67 345.73,233.30 346.35,232.89 346.97,232.45 347.59,231.98 348.21,231.48 348.82,230.94 349.44,230.36 350.06,229.75 350.68,229.10 351.30,228.41 351.92,227.68 352.54,226.91 353.16,226.10 353.78,225.26 354.40,224.38 355.01,223.46 355.63,222.50 356.25,221.51 356.87,220.49 357.49,219.43 358.11,218.35 358.73,217.25 359.35,216.12 359.97,214.97 360.59,213.80 361.20,212.63 361.82,211.44 362.44,210.26 363.06,209.07 363.68,207.90 364.30,206.73 364.92,205.58 365.54,204.46 366.16,203.36 366.78,202.29 367.39,201.27 368.01,200.29 368.63,199.35 369.25,198.47 369.87,197.65 370.49,196.89 371.11,196.20 371.73,195.58 372.35,195.04 372.97,194.57 373.58,194.19 374.20,193.89 374.82,193.67 375.44,193.54 376.06,193.50 376.68,193.54 377.30,193.67 377.92,193.89 378.54,194.19 379.16,194.57 379.77,195.04 380.39,195.58 381.01,196.20 381.63,196.89 382.25,197.65 382.87,198.47 383.49,199.35 384.11,200.29 384.73,201.27 385.35,202.29 385.96,203.36 386.58,204.46 387.20,205.58 387.82,206.73 388.44,207.90 389.06,209.07 389.68,210.26 390.30,211.44 390.92,212.63 391.54,213.80 392.15,214.97 392.77,216.12 393.39,217.25 394.01,218.35 394.63,219.43 395.25,220.49 395.87,221.51 396.49,222.50 397.11,223.46 397.73,224.38 398.34,225.26 398.96,226.10 399.58,226.91 400.20,227.68 400.82,228.41 401.44,229.10 402.06,229.75 402.68,230.36 403.30,230.94 403.92,231.48 404.53,231.98 405.15,232.45 405.77,232.89 406.39,233.30 407.01,233.67 407.63,234.02 408.25,234.34 408.87,234.63 409.49,234.90 410.11,235.15 410.72,235.38 411.34,235.58 411.96,235.77 412.58,235.94 413.20,236.09 413.82,236.23 414.44,236.35 415.06,236.46 415.68,236.56 416.30,236.65 416.91,236.73 417.53,236.80 418.15,236.86 418.77,236.92 419.39,236.97 420.01,237.01 420.63,237.05 421.25,237.08 421.87,237.11 422.49,237.14 423.10,237.16 423.72,237.18 424.34,237.20 424.96,237.21 425.58,237.23 426.20,237.24L426.20,237.30Z" fill="rgb(13,77,171)" fill-opacity="0.476"/>
<polyline points="302.40,236.16 303.02,236.03 303.64,235.89 304.26,235.73 304.88,235.56 305.50,235.38 306.11,235.18 306.73,234.96 307.35,234.72 307.97,234.47 308.59,234.20 309.21,233.91 309.83,233.59 310.45,233.26 311.07,232.90 311.69,232.52 312.30,232.12 312.92,231.69 313.54,231.24 314.16,230.77 314.78,230.27 315.40,229.75 316.02,229.21 316.64,228.64 317.26,228.05 317.88,227.43 318.49,226.80 319.11,226.14 319.73,225.47 320.35,224.78 320.97,224.07 321.59,223.35 322.21,222.62 322.83,221.87 323.45,221.12 324.06,220.36 324.68,219.60 325.30,218.84 325.92,218.08 326.54,217.32 327.16,216.58 327.78,215.84 328.40,215.12 329.02,214.41 329.64,213.73 330.25,213.06 330.87,212.42 331.49,211.81 332.11,211.22 332.73,210.67 333.35,210.15 333.97,209.67 334.59,209.23 335.21,208.82 335.83,208.46 336.44,208.13 337.06,207.84 337.68,207.60 338.30,207.40 338.92,207.23 339.54,207.11 340.16,207.02 340.78,206.96 341.40,206.94 342.02,206.96 342.63,207.00 343.25,207.06 343.87,207.15 344.49,207.26 345.11,207.38 345.73,207.51 346.35,207.65 346.97,207.79 347.59,207.93 348.21,208.06 348.82,208.19 349.44,208.30 350.06,208.39 350.68,208.46 351.30,208.51 351.92,208.52 352.54,208.50 353.16,208.45 353.78,208.36 354.40,208.23 355.01,208.06 355.63,207.84 356.25,207.58 356.87,207.28 357.49,206.93 358.11,206.53 358.73,206.10 359.35,205.62 359.97,205.11 360.59,204.55 361.20,203.97 361.82,203.35 362.44,202.71 363.06,202.05 363.68,201.37 364.30,200.68 364.92,199.98 365.54,199.28 366.16,198.58 366.78,197.90 367.39,197.23 368.01,196.58 368.63,195.96 369.25,195.37 369.87,194.82 370.49,194.32 371.11,193.86 371.73,193.46 372.35,193.12 372.97,192.84 373.58,192.62 374.20,192.48 374.82,192.40 375.44,192.40 376.06,192.48 376.68,192.63 377.30,192.86 377.92,193.16 378.54,193.55 379.16,194.00 379.77,194.54 380.39,195.14 381.01,195.81 381.63,196.55 382.25,197.35 382.87,198.21 383.49,199.12 384.11,200.08 384.73,201.09 385.35,202.14 385.96,203.22 386.58,204.34 387.20,205.48 387.82,206.64 388.44,207.82 389.06,209.01 389.68,210.20 390.30,211.40 390.92,212.59 391.54,213.77 392.15,214.94 392.77,216.09 393.39,217.22 394.01,218.33 394.63,219.42 395.25,220.47 395.87,221.50 396.49,222.49 397.11,223.45 397.73,224.37 398.34,225.25 398.96,226.10 399.58,226.91 400.20,227.67 400.82,228.40 401.44,229.09 402.06,229.75 402.68,230.36 403.30,230.94 403.92,231.48 404.53,231.98 405.15,232.45 405.77,232.89 406.39,233.30 407.01,233.67 407.63,234.02 408.25,234.34 408.87,234.63 409.49,234.90 410.11,235.15 410.72,235.38 411.34,235.58 411.96,235.77 412.58,235.94 413.20,236.09 413.82,236.23 414.44,236.35 415.06,236.46 415.68,236.56 416.30,236.65 416.91,236.73 417.53,236.80 418.15,236.86 418.77,236.92 419.39,236.97 420.01,237.01 420.63,237.05 421.25,237.08 421.87,237.11 422.49,237.14 423.10,237.16 423.72,237.18 424.34,237.20 424.96,237.21 425.58,237.23 426.20,237.24" fill="none" stroke="#111" stroke-width="1.2" stroke-linejoin="round"/>
<path d="M302.40 133.50V237.30H426.20" fill="none" stroke="#555" stroke-width="1.0"/>
<path d="M298.80 237.30H302.40M300.10 226.92H302.40M298.80 216.54H302.40M300.10 206.16H302.40M298.80 195.78H302.40M300.10 185.40H302.40M298.80 175.02H302.40M300.10 164.64H302.40M298.80 154.26H302.40M300.10 143.88H302.40M298.80 133.50H302.40M302.40 237.30V239.70M314.78 237.30V239.70M327.16 237.30V239.70M339.54 237.30V239.70M351.92 237.30V239.70M364.30 237.30V239.70M376.68 237.30V239.70M389.06 237.30V239.70M401.44 237.30V239.70M413.82 237.30V239.70M426.20 237.30V239.70" fill="none" stroke="#555" stroke-width="0.9"/>
<text x="294.50" y="240.50" font-family="Liberation Sans" font-size="9" text-anchor="end" fill="#222" stroke="#222" stroke-width="0.22">0.00</text>
<text x="294.50" y="219.74" font-family="Liberation Sans" font-size="9" text-anchor="end" fill="#222" stroke="#222" stroke-width="0.22">0.01</text>
<text x="294.50" y="198.98" font-family="Liberation Sans" font-size="9" text-anchor="end" fill="#222" stroke="#222" stroke-width="0.22">0.02</text>
<text x="294.50" y="178.22" font-family="Liberation Sans" font-size="9" text-anchor="end" fill="#222" stroke="#222" stroke-width="0.22">0.03</text>
<text x="294.50" y="157.46" font-family="Liberation Sans" font-size="9" text-anchor="end" fill="#222" stroke="#222" stroke-width="0.22">0.04</text>
<text x="294.50" y="136.70" font-family="Liberation Sans" font-size="9" text-anchor="end" fill="#222" stroke="#222" stroke-width="0.22">0.05</text>
<text transform="translate(266.10,185.40) rotate(-90)" font-family="Liberation Sans" font-size="11.8" text-anchor="middle" fill="#222" stroke="#222" stroke-width="0.22">probability</text>
<text x="251.5" y="127.0" font-family="Liberation Sans" font-size="16.2" fill="#111" stroke="#111" stroke-width="0.22">g</text>
<text x="410.60" y="141.60" font-family="Liberation Sans" font-size="13.4" fill="#111" stroke="#111" stroke-width="0.22">apo</text>
<text x="389.75" y="159.60" font-family="Liberation Sans" font-size="12" fill="#e8202a" stroke="#e8202a" stroke-width="0.22">P<tspan font-size="7.0" dy="2.2">low</tspan><tspan dy="-2.2" dx="0.9">:</tspan></text>
<text x="419.75" y="159.60" font-family="Liberation Sans" font-size="12" fill="#e8202a" stroke="#e8202a" stroke-width="0.22">43.3%</text>
<text x="389.75" y="175.50" font-family="Liberation Sans" font-size="12" fill="#2b3090" stroke="#2b3090" stroke-width="0.22">P<tspan font-size="7.0" dy="2.2">high</tspan><tspan dy="-2.2" dx="0.9">:</tspan></text>
<text x="422.25" y="175.50" font-family="Liberation Sans" font-size="12" fill="#2b3090" stroke="#2b3090" stroke-width="0.22">56.7%</text>
<path d="M301.90 374.40V373.44H304.38V374.40M304.38 374.40V372.91H306.85V374.40M306.85 374.40V372.14H309.33V374.40M309.33 374.40V371.09H311.80V374.40M311.80 374.40V369.70H314.28V374.40M314.28 374.40V365.27H316.76V374.40M316.76 374.40V361.74H319.23V374.40M319.23 374.40V358.83H321.71V374.40M321.71 374.40V355.72H324.18V374.40M324.18 374.40V352.39H326.66V374.40M326.66 374.40V352.39H329.14V374.40M329.14 374.40V341.81H331.61V374.40M331.61 374.40V353.85H334.09V374.40M334.09 374.40V357.17H336.56V374.40M336.56 374.40V341.39H339.04V374.40M339.04 374.40V344.30H341.52V374.40M341.52 374.40V345.34H343.99V374.40M343.99 374.40V346.37H346.47V374.40M346.47 374.40V346.37H348.94V374.40M348.94 374.40V330.39H351.42V374.40M351.42 374.40V345.34H353.90V374.40M353.90 374.40V339.32H356.37V374.40M356.37 374.40V329.56H358.85V374.40M358.85 374.40V334.96H361.32V374.40M361.32 374.40V334.54H363.80V374.40M363.80 374.40V336.62H366.28V374.40M366.28 374.40V332.88H368.75V374.40M368.75 374.40V321.88H371.23V374.40M371.23 374.40V325.61H373.70V374.40M373.70 374.40V338.07H376.18V374.40M376.18 374.40V324.37H378.66V374.40M378.66 374.40V330.80H381.13V374.40M381.13 374.40V331.84H383.61V374.40M383.61 374.40V335.99H386.08V374.40M386.08 374.40V341.18H388.56V374.40M388.56 374.40V347.41H391.04V374.40M391.04 374.40V351.15H393.51V374.40M393.51 374.40V355.72H395.99V374.40M395.99 374.40V361.32H398.46V374.40M398.46 374.40V365.06H400.94V374.40M400.94 374.40V368.17H403.42V374.40M403.42 374.40V370.66H405.89V374.40M405.89 374.40V372.32H408.37V374.40M408.37 374.40V373.36H410.84V374.40M410.84 374.40V373.81H413.32V374.40M413.32 374.40V374.07H415.80V374.40M415.80 374.40V374.22H418.27V374.40M418.27 374.40V374.31H420.75V374.40M420.75 374.40V374.35H423.22V374.40M423.22 374.40V374.38H425.70V374.40" fill="#fff" stroke="#858585" stroke-width="0.8"/>
<path d="M302.40,374.40L302.40,373.64 303.02,373.55 303.64,373.44 304.26,373.33 304.88,373.20 305.50,373.06 306.11,372.91 306.73,372.74 307.35,372.56 307.97,372.36 308.59,372.14 309.21,371.91 309.83,371.66 310.45,371.38 311.07,371.09 311.69,370.78 312.30,370.44 312.92,370.08 313.54,369.70 314.16,369.30 314.78,368.87 315.40,368.41 316.02,367.93 316.64,367.43 317.26,366.90 317.88,366.35 318.49,365.77 319.11,365.17 319.73,364.55 320.35,363.91 320.97,363.25 321.59,362.56 322.21,361.86 322.83,361.15 323.45,360.42 324.06,359.68 324.68,358.94 325.30,358.18 325.92,357.43 326.54,356.67 327.16,355.91 327.78,355.16 328.40,354.42 329.02,353.70 329.64,352.98 330.25,352.29 330.87,351.62 331.49,350.97 332.11,350.35 332.73,349.76 333.35,349.21 333.97,348.70 334.59,348.23 335.21,347.80 335.83,347.42 336.44,347.08 337.06,346.80 337.68,346.56 338.30,346.38 338.92,346.26 339.54,346.18 340.16,346.17 340.78,346.21 341.40,346.30 342.02,346.45 342.63,346.65 343.25,346.90 343.87,347.21 344.49,347.56 345.11,347.96 345.73,348.41 346.35,348.90 346.97,349.43 347.59,349.99 348.21,350.59 348.82,351.22 349.44,351.88 350.06,352.56 350.68,353.27 351.30,353.99 351.92,354.72 352.54,355.46 353.16,356.22 353.78,356.97 354.40,357.73 355.01,358.49 355.63,359.24 356.25,359.98 356.87,360.72 357.49,361.44 358.11,362.15 358.73,362.84 359.35,363.51 359.97,364.17 360.59,364.80 361.20,365.42 361.82,366.01 362.44,366.57 363.06,367.11 363.68,367.63 364.30,368.13 364.92,368.60 365.54,369.04 366.16,369.46 366.78,369.86 367.39,370.23 368.01,370.58 368.63,370.91 369.25,371.21 369.87,371.50 370.49,371.76 371.11,372.00 371.73,372.23 372.35,372.44 372.97,372.63 373.58,372.81 374.20,372.97 374.82,373.12 375.44,373.25 376.06,373.38 376.68,373.49 377.30,373.59 377.92,373.68 378.54,373.76 379.16,373.83 379.77,373.90 380.39,373.96 381.01,374.01 381.63,374.06 382.25,374.10 382.87,374.14 383.49,374.17 384.11,374.20 384.73,374.23 385.35,374.25 385.96,374.27 386.58,374.29 387.20,374.30 387.82,374.32 388.44,374.33 389.06,374.34 389.68,374.35 390.30,374.36 390.92,374.36 391.54,374.37 392.15,374.37 392.77,374.38 393.39,374.38 394.01,374.38 394.63,374.39 395.25,374.39 395.87,374.39 396.49,374.39 397.11,374.39 397.73,374.39 398.34,374.40 398.96,374.40 399.58,374.40 400.20,374.40 400.82,374.40 401.44,374.40 402.06,374.40 402.68,374.40 403.30,374.40 403.92,374.40 404.53,374.40 405.15,374.40 405.77,374.40 406.39,374.40 407.01,374.40 407.63,374.40 408.25,374.40 408.87,374.40 409.49,374.40 410.11,374.40 410.72,374.40 411.34,374.40 411.96,374.40 412.58,374.40 413.20,374.40 413.82,374.40 414.44,374.40 415.06,374.40 415.68,374.40 416.30,374.40 416.91,374.40 417.53,374.40 418.15,374.40 418.77,374.40 419.39,374.40 420.01,374.40 420.63,374.40 421.25,374.40 421.87,374.40 422.49,374.40 423.10,374.40 423.72,374.40 424.34,374.40 424.96,374.40 425.58,374.40 426.20,374.40L426.20,374.40Z" fill="rgb(235,45,40)" fill-opacity="0.5"/>
<path d="M302.40,374.40L302.40,374.40 303.02,374.40 303.64,374.40 304.26,374.40 304.88,374.40 305.50,374.40 306.11,374.40 306.73,374.40 307.35,374.40 307.97,374.40 308.59,374.40 309.21,374.40 309.83,374.40 310.45,374.40 311.07,374.40 311.69,374.40 312.30,374.40 312.92,374.40 313.54,374.40 314.16,374.40 314.78,374.39 315.40,374.39 316.02,374.39 316.64,374.39 317.26,374.39 317.88,374.39 318.49,374.38 319.11,374.38 319.73,374.38 320.35,374.37 320.97,374.37 321.59,374.36 322.21,374.36 322.83,374.35 323.45,374.34 324.06,374.33 324.68,374.32 325.30,374.30 325.92,374.29 326.54,374.27 327.16,374.25 327.78,374.22 328.40,374.20 329.02,374.16 329.64,374.13 330.25,374.09 330.87,374.04 331.49,373.99 332.11,373.93 332.73,373.86 333.35,373.78 333.97,373.70 334.59,373.60 335.21,373.50 335.83,373.38 336.44,373.25 337.06,373.10 337.68,372.94 338.30,372.76 338.92,372.56 339.54,372.34 340.16,372.10 340.78,371.84 341.40,371.56 342.02,371.25 342.63,370.91 343.25,370.54 343.87,370.14 344.49,369.71 345.11,369.25 345.73,368.75 346.35,368.22 346.97,367.65 347.59,367.04 348.21,366.39 348.82,365.70 349.44,364.97 350.06,364.20 350.68,363.39 351.30,362.54 351.92,361.65 352.54,360.71 353.16,359.74 353.78,358.73 354.40,357.68 355.01,356.59 355.63,355.47 356.25,354.32 356.87,353.15 357.49,351.95 358.11,350.72 358.73,349.48 359.35,348.23 359.97,346.96 360.59,345.69 361.20,344.42 361.82,343.16 362.44,341.90 363.06,340.67 363.68,339.45 364.30,338.26 364.92,337.10 365.54,335.98 366.16,334.91 366.78,333.88 367.39,332.91 368.01,332.00 368.63,331.15 369.25,330.37 369.87,329.67 370.49,329.04 371.11,328.50 371.73,328.04 372.35,327.66 372.97,327.38 373.58,327.19 374.20,327.08 374.82,327.07 375.44,327.16 376.06,327.33 376.68,327.60 377.30,327.96 377.92,328.40 378.54,328.93 379.16,329.54 379.77,330.23 380.39,330.99 381.01,331.82 381.63,332.72 382.25,333.68 382.87,334.70 383.49,335.76 384.11,336.87 384.73,338.02 385.35,339.21 385.96,340.42 386.58,341.65 387.20,342.91 387.82,344.17 388.44,345.44 389.06,346.71 389.68,347.97 390.30,349.23 390.92,350.47 391.54,351.70 392.15,352.91 392.77,354.09 393.39,355.25 394.01,356.37 394.63,357.46 395.25,358.52 395.87,359.54 396.49,360.52 397.11,361.46 397.73,362.36 398.34,363.22 398.96,364.04 399.58,364.82 400.20,365.56 400.82,366.26 401.44,366.91 402.06,367.53 402.68,368.11 403.30,368.65 403.92,369.15 404.53,369.62 405.15,370.06 405.77,370.46 406.39,370.84 407.01,371.18 407.63,371.50 408.25,371.79 408.87,372.05 409.49,372.30 410.11,372.52 410.72,372.72 411.34,372.90 411.96,373.07 412.58,373.22 413.20,373.35 413.82,373.47 414.44,373.58 415.06,373.68 415.68,373.77 416.30,373.85 416.91,373.91 417.53,373.98 418.15,374.03 418.77,374.08 419.39,374.12 420.01,374.16 420.63,374.19 421.25,374.22 421.87,374.24 422.49,374.27 423.10,374.28 423.72,374.30 424.34,374.32 424.96,374.33 425.58,374.34 426.20,374.35L426.20,374.40Z" fill="rgb(13,77,171)" fill-opacity="0.476"/>
<polyline points="302.40,373.64 303.02,373.55 303.64,373.44 304.26,373.33 304.88,373.20 305.50,373.06 306.11,372.91 306.73,372.74 307.35,372.56 307.97,372.36 308.59,372.14 309.21,371.91 309.83,371.66 310.45,371.38 311.07,371.09 311.69,370.78 312.30,370.44 312.92,370.08 313.54,369.70 314.16,369.29 314.78,368.86 315.40,368.41 316.02,367.93 316.64,367.42 317.26,366.89 317.88,366.34 318.49,365.76 319.11,365.15 319.73,364.53 320.35,363.88 320.97,363.21 321.59,362.53 322.21,361.82 322.83,361.10 323.45,360.36 324.06,359.61 324.68,358.86 325.30,358.09 325.92,357.32 326.54,356.54 327.16,355.76 327.78,354.99 328.40,354.22 329.02,353.46 329.64,352.71 330.25,351.97 330.87,351.26 331.49,350.56 332.11,349.88 332.73,349.22 333.35,348.60 333.97,348.00 334.59,347.43 335.21,346.90 335.83,346.39 336.44,345.93 337.06,345.50 337.68,345.10 338.30,344.74 338.92,344.42 339.54,344.13 340.16,343.87 340.78,343.65 341.40,343.46 342.02,343.29 342.63,343.16 343.25,343.04 343.87,342.95 344.49,342.88 345.11,342.81 345.73,342.76 346.35,342.72 346.97,342.68 347.59,342.63 348.21,342.58 348.82,342.53 349.44,342.45 350.06,342.37 350.68,342.26 351.30,342.12 351.92,341.97 352.54,341.78 353.16,341.55 353.78,341.30 354.40,341.01 355.01,340.68 355.63,340.31 356.25,339.91 356.87,339.46 357.49,338.98 358.11,338.47 358.73,337.92 359.35,337.34 359.97,336.73 360.59,336.09 361.20,335.44 361.82,334.76 362.44,334.08 363.06,333.38 363.68,332.68 364.30,331.99 364.92,331.30 365.54,330.62 366.16,329.97 366.78,329.34 367.39,328.74 368.01,328.18 368.63,327.66 369.25,327.18 369.87,326.76 370.49,326.40 371.11,326.10 371.73,325.87 372.35,325.70 372.97,325.61 373.58,325.59 374.20,325.65 374.82,325.79 375.44,326.01 376.06,326.31 376.68,326.69 377.30,327.14 377.92,327.68 378.54,328.29 379.16,328.97 379.77,329.73 380.39,330.55 381.01,331.44 381.63,332.38 382.25,333.38 382.87,334.44 383.49,335.54 384.11,336.68 384.73,337.85 385.35,339.06 385.96,340.29 386.58,341.54 387.20,342.81 387.82,344.09 388.44,345.37 389.06,346.65 389.68,347.92 390.30,349.19 390.92,350.44 391.54,351.67 392.15,352.88 392.77,354.07 393.39,355.23 394.01,356.35 394.63,357.45 395.25,358.51 395.87,359.53 396.49,360.51 397.11,361.46 397.73,362.36 398.34,363.22 398.96,364.04 399.58,364.82 400.20,365.56 400.82,366.25 401.44,366.91 402.06,367.53 402.68,368.11 403.30,368.65 403.92,369.15 404.53,369.62 405.15,370.06 405.77,370.46 406.39,370.84 407.01,371.18 407.63,371.50 408.25,371.79 408.87,372.05 409.49,372.30 410.11,372.52 410.72,372.72 411.34,372.90 411.96,373.07 412.58,373.22 413.20,373.35 413.82,373.47 414.44,373.58 415.06,373.68 415.68,373.77 416.30,373.85 416.91,373.91 417.53,373.98 418.15,374.03 418.77,374.08 419.39,374.12 420.01,374.16 420.63,374.19 421.25,374.22 421.87,374.24 422.49,374.27 423.10,374.28 423.72,374.30 424.34,374.32 424.96,374.33 425.58,374.34 426.20,374.35" fill="none" stroke="#111" stroke-width="1.2" stroke-linejoin="round"/>
<path d="M302.40 270.60V374.40H426.20" fill="none" stroke="#555" stroke-width="1.0"/>
<path d="M298.80 374.40H302.40M300.10 364.02H302.40M298.80 353.64H302.40M300.10 343.26H302.40M298.80 332.88H302.40M300.10 322.50H302.40M298.80 312.12H302.40M300.10 301.74H302.40M298.80 291.36H302.40M300.10 280.98H302.40M298.80 270.60H302.40M302.40 374.40V376.80M314.78 374.40V376.80M327.16 374.40V376.80M339.54 374.40V376.80M351.92 374.40V376.80M364.30 374.40V376.80M376.68 374.40V376.80M389.06 374.40V376.80M401.44 374.40V376.80M413.82 374.40V376.80M426.20 374.40V376.80" fill="none" stroke="#555" stroke-width="0.9"/>
<text x="294.50" y="377.60" font-family="Liberation Sans" font-size="9" text-anchor="end" fill="#222" stroke="#222" stroke-width="0.22">0.00</text>
<text x="294.50" y="356.84" font-family="Liberation Sans" font-size="9" text-anchor="end" fill="#222" stroke="#222" stroke-width="0.22">0.01</text>
<text x="294.50" y="336.08" font-family="Liberation Sans" font-size="9" text-anchor="end" fill="#222" stroke="#222" stroke-width="0.22">0.02</text>
<text x="294.50" y="315.32" font-family="Liberation Sans" font-size="9" text-anchor="end" fill="#222" stroke="#222" stroke-width="0.22">0.03</text>
<text x="294.50" y="294.56" font-family="Liberation Sans" font-size="9" text-anchor="end" fill="#222" stroke="#222" stroke-width="0.22">0.04</text>
<text x="294.50" y="273.80" font-family="Liberation Sans" font-size="9" text-anchor="end" fill="#222" stroke="#222" stroke-width="0.22">0.05</text>
<text transform="translate(266.10,322.50) rotate(-90)" font-family="Liberation Sans" font-size="11.8" text-anchor="middle" fill="#222" stroke="#222" stroke-width="0.22">probability</text>
<text x="251.5" y="266.70000000000005" font-family="Liberation Sans" font-size="16.2" fill="#111" stroke="#111" stroke-width="0.22">h</text>
<text x="380.40" y="277.30" font-family="Liberation Sans" font-size="13.4" fill="#2b3090" stroke="#2b3090" stroke-width="0.22">+ 200nM DNA</text>
<text x="391.05" y="294.60" font-family="Liberation Sans" font-size="12" fill="#e8202a" stroke="#e8202a" stroke-width="0.22">P<tspan font-size="7.0" dy="2.2">low</tspan><tspan dy="-2.2" dx="0.9">:</tspan></text>
<text x="421.05" y="294.60" font-family="Liberation Sans" font-size="12" fill="#e8202a" stroke="#e8202a" stroke-width="0.22">38.5%</text>
<text x="391.05" y="310.70" font-family="Liberation Sans" font-size="12" fill="#2b3090" stroke="#2b3090" stroke-width="0.22">P<tspan font-size="7.0" dy="2.2">high</tspan><tspan dy="-2.2" dx="0.9">:</tspan></text>
<text x="423.55" y="310.70" font-family="Liberation Sans" font-size="12" fill="#2b3090" stroke="#2b3090" stroke-width="0.22">61.5%</text>
<path d="M301.90 514.40V513.49H304.38V514.40M304.38 514.40V512.96H306.85V514.40M306.85 514.40V512.20H309.33V514.40M309.33 514.40V511.15H311.80V514.40M311.80 514.40V509.75H314.28V514.40M314.28 514.40V503.81H316.76V514.40M316.76 514.40V501.53H319.23V514.40M319.23 514.40V499.04H321.71V514.40M321.71 514.40V498.62H324.18V514.40M324.18 514.40V493.22H326.66V514.40M326.66 514.40V486.37H329.14V514.40M329.14 514.40V488.45H331.61V514.40M331.61 514.40V493.85H334.09V514.40M334.09 514.40V489.49H336.56V514.40M336.56 514.40V489.49H339.04V514.40M339.04 514.40V489.49H341.52V514.40M341.52 514.40V487.62H343.99V514.40M343.99 514.40V488.45H346.47V514.40M346.47 514.40V487.41H348.94V514.40M348.94 514.40V479.52H351.42V514.40M351.42 514.40V480.15H353.90V514.40M353.90 514.40V481.18H356.37V514.40M356.37 514.40V479.11H358.85V514.40M358.85 514.40V473.71H361.32V514.40M361.32 514.40V474.96H363.80V514.40M363.80 514.40V472.88H366.28V514.40M366.28 514.40V465.41H368.75V514.40M368.75 514.40V468.73H371.23V514.40M371.23 514.40V468.73H373.70V514.40M373.70 514.40V473.92H376.18V514.40M376.18 514.40V470.80H378.66V514.40M378.66 514.40V472.88H381.13V514.40M381.13 514.40V477.03H383.61V514.40M383.61 514.40V481.18H386.08V514.40M386.08 514.40V485.34H388.56V514.40M388.56 514.40V477.45H391.04V514.40M391.04 514.40V491.56H393.51V514.40M393.51 514.40V494.47H395.99V514.40M395.99 514.40V498.62H398.46V514.40M398.46 514.40V502.15H400.94V514.40M400.94 514.40V507.13H403.42V514.40M403.42 514.40V509.83H405.89V514.40M405.89 514.40V511.70H408.37V514.40M408.37 514.40V513.15H410.84V514.40M410.84 514.40V512.88H413.32V514.40M413.32 514.40V513.44H415.80V514.40M415.80 514.40V513.81H418.27V514.40M418.27 514.40V514.04H420.75V514.40M420.75 514.40V514.19H423.22V514.40M423.22 514.40V514.28H425.70V514.40" fill="#fff" stroke="#858585" stroke-width="0.8"/>
<path d="M302.40,514.40L302.40,513.69 303.02,513.60 303.64,513.49 304.26,513.38 304.88,513.25 305.50,513.12 306.11,512.96 306.73,512.80 307.35,512.62 307.97,512.42 308.59,512.20 309.21,511.97 309.83,511.72 310.45,511.44 311.07,511.15 311.69,510.84 312.30,510.50 312.92,510.14 313.54,509.76 314.16,509.35 314.78,508.92 315.40,508.47 316.02,507.99 316.64,507.49 317.26,506.97 317.88,506.42 318.49,505.86 319.11,505.27 319.73,504.66 320.35,504.03 320.97,503.39 321.59,502.73 322.21,502.06 322.83,501.38 323.45,500.69 324.06,499.99 324.68,499.29 325.30,498.59 325.92,497.90 326.54,497.21 327.16,496.53 327.78,495.86 328.40,495.21 329.02,494.58 329.64,493.97 330.25,493.39 330.87,492.83 331.49,492.31 332.11,491.83 332.73,491.39 333.35,490.98 333.97,490.62 334.59,490.31 335.21,490.05 335.83,489.83 336.44,489.67 337.06,489.56 337.68,489.50 338.30,489.49 338.92,489.54 339.54,489.64 340.16,489.79 340.78,490.00 341.40,490.25 342.02,490.56 342.63,490.91 343.25,491.30 343.87,491.74 344.49,492.21 345.11,492.73 345.73,493.27 346.35,493.85 346.97,494.45 347.59,495.08 348.21,495.73 348.82,496.39 349.44,497.07 350.06,497.76 350.68,498.45 351.30,499.15 351.92,499.85 352.54,500.55 353.16,501.24 353.78,501.92 354.40,502.60 355.01,503.26 355.63,503.90 356.25,504.53 356.87,505.15 357.49,505.74 358.11,506.31 358.73,506.86 359.35,507.39 359.97,507.90 360.59,508.38 361.20,508.84 361.82,509.27 362.44,509.68 363.06,510.07 363.68,510.43 364.30,510.77 364.92,511.09 365.54,511.39 366.16,511.66 366.78,511.92 367.39,512.16 368.01,512.38 368.63,512.58 369.25,512.76 369.87,512.93 370.49,513.09 371.11,513.23 371.73,513.36 372.35,513.47 372.97,513.58 373.58,513.67 374.20,513.76 374.82,513.83 375.44,513.90 376.06,513.96 376.68,514.02 377.30,514.06 377.92,514.11 378.54,514.15 379.16,514.18 379.77,514.21 380.39,514.23 381.01,514.26 381.63,514.28 382.25,514.29 382.87,514.31 383.49,514.32 384.11,514.33 384.73,514.34 385.35,514.35 385.96,514.36 386.58,514.37 387.20,514.37 387.82,514.38 388.44,514.38 389.06,514.38 389.68,514.39 390.30,514.39 390.92,514.39 391.54,514.39 392.15,514.39 392.77,514.39 393.39,514.40 394.01,514.40 394.63,514.40 395.25,514.40 395.87,514.40 396.49,514.40 397.11,514.40 397.73,514.40 398.34,514.40 398.96,514.40 399.58,514.40 400.20,514.40 400.82,514.40 401.44,514.40 402.06,514.40 402.68,514.40 403.30,514.40 403.92,514.40 404.53,514.40 405.15,514.40 405.77,514.40 406.39,514.40 407.01,514.40 407.63,514.40 408.25,514.40 408.87,514.40 409.49,514.40 410.11,514.40 410.72,514.40 411.34,514.40 411.96,514.40 412.58,514.40 413.20,514.40 413.82,514.40 414.44,514.40 415.06,514.40 415.68,514.40 416.30,514.40 416.91,514.40 417.53,514.40 418.15,514.40 418.77,514.40 419.39,514.40 420.01,514.40 420.63,514.40 421.25,514.40 421.87,514.40 422.49,514.40 423.10,514.40 423.72,514.40 424.34,514.40 424.96,514.40 425.58,514.40 426.20,514.40L426.20,514.40Z" fill="rgb(235,45,40)" fill-opacity="0.5"/>
<path d="M302.40,514.40L302.40,514.40 303.02,514.40 303.64,514.40 304.26,514.40 304.88,514.40 305.50,514.40 306.11,514.40 306.73,514.40 307.35,514.40 307.97,514.40 308.59,514.40 309.21,514.40 309.83,514.40 310.45,514.40 311.07,514.39 311.69,514.39 312.30,514.39 312.92,514.39 313.54,514.39 314.16,514.39 314.78,514.39 315.40,514.38 316.02,514.38 316.64,514.38 317.26,514.37 317.88,514.37 318.49,514.36 319.11,514.35 319.73,514.35 320.35,514.34 320.97,514.33 321.59,514.31 322.21,514.30 322.83,514.29 323.45,514.27 324.06,514.25 324.68,514.22 325.30,514.20 325.92,514.17 326.54,514.13 327.16,514.10 327.78,514.05 328.40,514.00 329.02,513.95 329.64,513.89 330.25,513.82 330.87,513.75 331.49,513.66 332.11,513.57 332.73,513.46 333.35,513.34 333.97,513.22 334.59,513.07 335.21,512.92 335.83,512.75 336.44,512.56 337.06,512.35 337.68,512.13 338.30,511.88 338.92,511.61 339.54,511.32 340.16,511.01 340.78,510.67 341.40,510.30 342.02,509.91 342.63,509.48 343.25,509.03 343.87,508.54 344.49,508.02 345.11,507.47 345.73,506.88 346.35,506.26 346.97,505.60 347.59,504.90 348.21,504.17 348.82,503.40 349.44,502.59 350.06,501.75 350.68,500.87 351.30,499.95 351.92,499.00 352.54,498.02 353.16,497.00 353.78,495.96 354.40,494.88 355.01,493.78 355.63,492.65 356.25,491.51 356.87,490.34 357.49,489.16 358.11,487.97 358.73,486.78 359.35,485.58 359.97,484.38 360.59,483.18 361.20,482.00 361.82,480.83 362.44,479.68 363.06,478.55 363.68,477.45 364.30,476.38 364.92,475.36 365.54,474.37 366.16,473.44 366.78,472.55 367.39,471.72 368.01,470.96 368.63,470.25 369.25,469.62 369.87,469.05 370.49,468.56 371.11,468.15 371.73,467.81 372.35,467.56 372.97,467.38 373.58,467.29 374.20,467.28 374.82,467.36 375.44,467.51 376.06,467.75 376.68,468.07 377.30,468.47 377.92,468.95 378.54,469.50 379.16,470.12 379.77,470.81 380.39,471.57 381.01,472.38 381.63,473.26 382.25,474.18 382.87,475.16 383.49,476.18 384.11,477.23 384.73,478.33 385.35,479.45 385.96,480.60 386.58,481.76 387.20,482.94 387.82,484.14 388.44,485.34 389.06,486.54 389.68,487.74 390.30,488.93 390.92,490.11 391.54,491.28 392.15,492.43 392.77,493.56 393.39,494.66 394.01,495.74 394.63,496.80 395.25,497.82 395.87,498.81 396.49,499.77 397.11,500.69 397.73,501.58 398.34,502.43 398.96,503.24 399.58,504.02 400.20,504.76 400.82,505.46 401.44,506.13 402.06,506.76 402.68,507.35 403.30,507.91 403.92,508.44 404.53,508.93 405.15,509.39 405.77,509.82 406.39,510.23 407.01,510.60 407.63,510.94 408.25,511.26 408.87,511.56 409.49,511.83 410.11,512.08 410.72,512.31 411.34,512.52 411.96,512.71 412.58,512.88 413.20,513.04 413.82,513.19 414.44,513.32 415.06,513.44 415.68,513.55 416.30,513.64 416.91,513.73 417.53,513.81 418.15,513.88 418.77,513.94 419.39,513.99 420.01,514.04 420.63,514.09 421.25,514.13 421.87,514.16 422.49,514.19 423.10,514.22 423.72,514.24 424.34,514.26 424.96,514.28 425.58,514.30 426.20,514.31L426.20,514.40Z" fill="rgb(13,77,171)" fill-opacity="0.476"/>
<polyline points="302.40,513.69 303.02,513.60 303.64,513.49 304.26,513.38 304.88,513.25 305.50,513.11 306.11,512.96 306.73,512.80 307.35,512.61 307.97,512.42 308.59,512.20 309.21,511.97 309.83,511.71 310.45,511.44 311.07,511.15 311.69,510.83 312.30,510.49 312.92,510.13 313.54,509.75 314.16,509.34 314.78,508.91 315.40,508.45 316.02,507.97 316.64,507.47 317.26,506.94 317.88,506.39 318.49,505.82 319.11,505.22 319.73,504.60 320.35,503.97 320.97,503.31 321.59,502.64 322.21,501.96 322.83,501.26 323.45,500.55 324.06,499.84 324.68,499.11 325.30,498.39 325.92,497.66 326.54,496.94 327.16,496.22 327.78,495.51 328.40,494.81 329.02,494.13 329.64,493.46 330.25,492.81 330.87,492.18 331.49,491.57 332.11,491.00 332.73,490.45 333.35,489.93 333.97,489.44 334.59,488.99 335.21,488.56 335.83,488.18 336.44,487.83 337.06,487.51 337.68,487.22 338.30,486.97 338.92,486.75 339.54,486.56 340.16,486.40 340.78,486.27 341.40,486.16 342.02,486.06 342.63,485.99 343.25,485.93 343.87,485.88 344.49,485.84 345.11,485.80 345.73,485.75 346.35,485.71 346.97,485.65 347.59,485.58 348.21,485.50 348.82,485.39 349.44,485.26 350.06,485.11 350.68,484.92 351.30,484.70 351.92,484.45 352.54,484.17 353.16,483.84 353.78,483.48 354.40,483.08 355.01,482.64 355.63,482.16 356.25,481.64 356.87,481.09 357.49,480.50 358.11,479.89 358.73,479.24 359.35,478.57 359.97,477.87 360.59,477.16 361.20,476.43 361.82,475.70 362.44,474.96 363.06,474.22 363.68,473.48 364.30,472.76 364.92,472.05 365.54,471.36 366.16,470.70 366.78,470.07 367.39,469.48 368.01,468.93 368.63,468.43 369.25,467.98 369.87,467.58 370.49,467.25 371.11,466.97 371.73,466.77 372.35,466.63 372.97,466.56 373.58,466.56 374.20,466.64 374.82,466.79 375.44,467.01 376.06,467.31 376.68,467.69 377.30,468.14 377.92,468.66 378.54,469.24 379.16,469.90 379.77,470.62 380.39,471.40 381.01,472.24 381.63,473.13 382.25,474.08 382.87,475.07 383.49,476.10 384.11,477.17 384.73,478.27 385.35,479.40 385.96,480.55 386.58,481.73 387.20,482.92 387.82,484.11 388.44,485.32 389.06,486.52 389.68,487.72 390.30,488.92 390.92,490.10 391.54,491.27 392.15,492.42 392.77,493.55 393.39,494.66 394.01,495.74 394.63,496.79 395.25,497.82 395.87,498.81 396.49,499.77 397.11,500.69 397.73,501.58 398.34,502.43 398.96,503.24 399.58,504.02 400.20,504.76 400.82,505.46 401.44,506.13 402.06,506.76 402.68,507.35 403.30,507.91 403.92,508.44 404.53,508.93 405.15,509.39 405.77,509.82 406.39,510.22 407.01,510.60 407.63,510.94 408.25,511.26 408.87,511.56 409.49,511.83 410.11,512.08 410.72,512.31 411.34,512.52 411.96,512.71 412.58,512.88 413.20,513.04 413.82,513.19 414.44,513.32 415.06,513.44 415.68,513.55 416.30,513.64 416.91,513.73 417.53,513.81 418.15,513.88 418.77,513.94 419.39,513.99 420.01,514.04 420.63,514.09 421.25,514.13 421.87,514.16 422.49,514.19 423.10,514.22 423.72,514.24 424.34,514.26 424.96,514.28 425.58,514.30 426.20,514.31" fill="none" stroke="#111" stroke-width="1.2" stroke-linejoin="round"/>
<path d="M302.40 410.60V514.40H426.20" fill="none" stroke="#555" stroke-width="1.0"/>
<path d="M298.80 514.40H302.40M300.10 504.02H302.40M298.80 493.64H302.40M300.10 483.26H302.40M298.80 472.88H302.40M300.10 462.50H302.40M298.80 452.12H302.40M300.10 441.74H302.40M298.80 431.36H302.40M300.10 420.98H302.40M298.80 410.60H302.40M302.40 514.40V516.80M314.78 514.40V516.80M327.16 514.40V516.80M339.54 514.40V516.80M351.92 514.40V516.80M364.30 514.40V516.80M376.68 514.40V516.80M389.06 514.40V516.80M401.44 514.40V516.80M413.82 514.40V516.80M426.20 514.40V516.80" fill="none" stroke="#555" stroke-width="0.9"/>
<text x="294.50" y="517.60" font-family="Liberation Sans" font-size="9" text-anchor="end" fill="#222" stroke="#222" stroke-width="0.22">0.00</text>
<text x="294.50" y="496.84" font-family="Liberation Sans" font-size="9" text-anchor="end" fill="#222" stroke="#222" stroke-width="0.22">0.01</text>
<text x="294.50" y="476.08" font-family="Liberation Sans" font-size="9" text-anchor="end" fill="#222" stroke="#222" stroke-width="0.22">0.02</text>
<text x="294.50" y="455.32" font-family="Liberation Sans" font-size="9" text-anchor="end" fill="#222" stroke="#222" stroke-width="0.22">0.03</text>
<text x="294.50" y="434.56" font-family="Liberation Sans" font-size="9" text-anchor="end" fill="#222" stroke="#222" stroke-width="0.22">0.04</text>
<text x="294.50" y="413.80" font-family="Liberation Sans" font-size="9" text-anchor="end" fill="#222" stroke="#222" stroke-width="0.22">0.05</text>
<text transform="translate(266.10,462.50) rotate(-90)" font-family="Liberation Sans" font-size="11.8" text-anchor="middle" fill="#222" stroke="#222" stroke-width="0.22">probability</text>
<text x="251.5" y="404.1" font-family="Liberation Sans" font-size="16.2" fill="#111" stroke="#111" stroke-width="0.22">i</text>
<text x="388.00" y="418.00" font-family="Liberation Sans" font-size="13.4" fill="#2b3090" stroke="#2b3090" stroke-width="0.22">+1 µM DNA</text>
<text x="391.05" y="435.60" font-family="Liberation Sans" font-size="12" fill="#e8202a" stroke="#e8202a" stroke-width="0.22">P<tspan font-size="7.0" dy="2.2">low</tspan><tspan dy="-2.2" dx="0.9">:</tspan></text>
<text x="421.05" y="435.60" font-family="Liberation Sans" font-size="12" fill="#e8202a" stroke="#e8202a" stroke-width="0.22">32.4%</text>
<text x="391.05" y="452.50" font-family="Liberation Sans" font-size="12" fill="#2b3090" stroke="#2b3090" stroke-width="0.22">P<tspan font-size="7.0" dy="2.2">high</tspan><tspan dy="-2.2" dx="0.9">:</tspan></text>
<text x="423.55" y="452.50" font-family="Liberation Sans" font-size="12" fill="#2b3090" stroke="#2b3090" stroke-width="0.22">67.6%</text>
<path d="M301.90 655.10V654.85H304.38V655.10M304.38 655.10V654.65H306.85V655.10M306.85 655.10V654.31H309.33V655.10M309.33 655.10V653.79H311.80V655.10M311.80 655.10V653.01H314.28V655.10M314.28 655.10V651.90H316.76V655.10M316.76 655.10V650.41H319.23V655.10M319.23 655.10V648.48H321.71V655.10M321.71 655.10V646.15H324.18V655.10M324.18 655.10V643.48H326.66V655.10M326.66 655.10V640.59H329.14V655.10M329.14 655.10V637.68H331.61V655.10M331.61 655.10V632.26H334.09V655.10M334.09 655.10V632.63H336.56V655.10M336.56 655.10V630.82H339.04V655.10M339.04 655.10V618.15H341.52V655.10M341.52 655.10V630.19H343.99V655.10M343.99 655.10V628.21H346.47V655.10M346.47 655.10V622.92H348.94V655.10M348.94 655.10V626.69H351.42V655.10M351.42 655.10V614.41H353.90V655.10M353.90 655.10V622.75H356.37V655.10M356.37 655.10V609.22H358.85V655.10M358.85 655.10V615.70H361.32V655.10M361.32 655.10V607.77H363.80V655.10M363.80 655.10V605.28H366.28V655.10M366.28 655.10V604.03H368.75V655.10M368.75 655.10V602.16H371.23V655.10M371.23 655.10V609.43H373.70V655.10M373.70 655.10V598.84H376.18V655.10M376.18 655.10V609.84H378.66V655.10M378.66 655.10V606.73H381.13V655.10M381.13 655.10V609.43H383.61V655.10M383.61 655.10V615.66H386.08V655.10M386.08 655.10V618.77H388.56V655.10M388.56 655.10V621.88H391.04V655.10M391.04 655.10V629.15H393.51V655.10M393.51 655.10V632.89H395.99V655.10M395.99 655.10V637.04H398.46V655.10M398.46 655.10V643.68H400.94V655.10M400.94 655.10V647.83H403.42V655.10M403.42 655.10V650.95H405.89V655.10M405.89 655.10V653.02H408.37V655.10M408.37 655.10V654.06H410.84V655.10M410.84 655.10V654.05H413.32V655.10M413.32 655.10V654.48H415.80V655.10M415.80 655.10V654.74H418.27V655.10M418.27 655.10V654.90H420.75V655.10M420.75 655.10V654.99H423.22V655.10M423.22 655.10V655.04H425.70V655.10" fill="#fff" stroke="#858585" stroke-width="0.8"/>
<path d="M302.40,655.10L302.40,654.92 303.02,654.88 303.64,654.85 304.26,654.81 304.88,654.76 305.50,654.71 306.11,654.65 306.73,654.58 307.35,654.50 307.97,654.41 308.59,654.31 309.21,654.20 309.83,654.08 310.45,653.94 311.07,653.79 311.69,653.62 312.30,653.44 312.92,653.24 313.54,653.01 314.16,652.77 314.78,652.51 315.40,652.22 316.02,651.91 316.64,651.58 317.26,651.22 317.88,650.83 318.49,650.42 319.11,649.98 319.73,649.52 320.35,649.03 320.97,648.52 321.59,647.98 322.21,647.41 322.83,646.82 323.45,646.21 324.06,645.59 324.68,644.94 325.30,644.27 325.92,643.60 326.54,642.91 327.16,642.21 327.78,641.52 328.40,640.82 329.02,640.12 329.64,639.43 330.25,638.75 330.87,638.08 331.49,637.44 332.11,636.82 332.73,636.22 333.35,635.66 333.97,635.13 334.59,634.64 335.21,634.19 335.83,633.79 336.44,633.44 337.06,633.14 337.68,632.89 338.30,632.70 338.92,632.57 339.54,632.49 340.16,632.47 340.78,632.51 341.40,632.61 342.02,632.77 342.63,632.99 343.25,633.25 343.87,633.58 344.49,633.95 345.11,634.37 345.73,634.83 346.35,635.34 346.97,635.88 347.59,636.46 348.21,637.06 348.82,637.69 349.44,638.35 350.06,639.02 350.68,639.70 351.30,640.40 351.92,641.10 352.54,641.80 353.16,642.49 353.78,643.19 354.40,643.87 355.01,644.54 355.63,645.20 356.25,645.84 356.87,646.46 357.49,647.06 358.11,647.64 358.73,648.20 359.35,648.73 359.97,649.23 360.59,649.71 361.20,650.16 361.82,650.59 362.44,650.99 363.06,651.36 363.68,651.71 364.30,652.04 364.92,652.34 365.54,652.62 366.16,652.87 366.78,653.11 367.39,653.32 368.01,653.52 368.63,653.69 369.25,653.85 369.87,654.00 370.49,654.13 371.11,654.25 371.73,654.35 372.35,654.45 372.97,654.53 373.58,654.61 374.20,654.67 374.82,654.73 375.44,654.78 376.06,654.82 376.68,654.86 377.30,654.90 377.92,654.93 378.54,654.95 379.16,654.98 379.77,654.99 380.39,655.01 381.01,655.02 381.63,655.04 382.25,655.05 382.87,655.06 383.49,655.06 384.11,655.07 384.73,655.07 385.35,655.08 385.96,655.08 386.58,655.09 387.20,655.09 387.82,655.09 388.44,655.09 389.06,655.09 389.68,655.09 390.30,655.10 390.92,655.10 391.54,655.10 392.15,655.10 392.77,655.10 393.39,655.10 394.01,655.10 394.63,655.10 395.25,655.10 395.87,655.10 396.49,655.10 397.11,655.10 397.73,655.10 398.34,655.10 398.96,655.10 399.58,655.10 400.20,655.10 400.82,655.10 401.44,655.10 402.06,655.10 402.68,655.10 403.30,655.10 403.92,655.10 404.53,655.10 405.15,655.10 405.77,655.10 406.39,655.10 407.01,655.10 407.63,655.10 408.25,655.10 408.87,655.10 409.49,655.10 410.11,655.10 410.72,655.10 411.34,655.10 411.96,655.10 412.58,655.10 413.20,655.10 413.82,655.10 414.44,655.10 415.06,655.10 415.68,655.10 416.30,655.10 416.91,655.10 417.53,655.10 418.15,655.10 418.77,655.10 419.39,655.10 420.01,655.10 420.63,655.10 421.25,655.10 421.87,655.10 422.49,655.10 423.10,655.10 423.72,655.10 424.34,655.10 424.96,655.10 425.58,655.10 426.20,655.10L426.20,655.10Z" fill="rgb(235,45,40)" fill-opacity="0.5"/>
<path d="M302.40,655.10L302.40,655.10 303.02,655.10 303.64,655.10 304.26,655.10 304.88,655.10 305.50,655.10 306.11,655.10 306.73,655.10 307.35,655.10 307.97,655.10 308.59,655.10 309.21,655.10 309.83,655.10 310.45,655.10 311.07,655.10 311.69,655.10 312.30,655.09 312.92,655.09 313.54,655.09 314.16,655.09 314.78,655.09 315.40,655.09 316.02,655.08 316.64,655.08 317.26,655.08 317.88,655.07 318.49,655.07 319.11,655.06 319.73,655.06 320.35,655.05 320.97,655.04 321.59,655.03 322.21,655.02 322.83,655.01 323.45,654.99 324.06,654.97 324.68,654.95 325.30,654.93 325.92,654.90 326.54,654.87 327.16,654.84 327.78,654.80 328.40,654.76 329.02,654.71 329.64,654.65 330.25,654.59 330.87,654.52 331.49,654.44 332.11,654.35 332.73,654.25 333.35,654.14 333.97,654.02 334.59,653.89 335.21,653.74 335.83,653.57 336.44,653.39 337.06,653.19 337.68,652.96 338.30,652.72 338.92,652.46 339.54,652.17 340.16,651.85 340.78,651.51 341.40,651.14 342.02,650.74 342.63,650.30 343.25,649.83 343.87,649.33 344.49,648.79 345.11,648.22 345.73,647.60 346.35,646.94 346.97,646.25 347.59,645.51 348.21,644.73 348.82,643.90 349.44,643.03 350.06,642.12 350.68,641.17 351.30,640.17 351.92,639.13 352.54,638.04 353.16,636.92 353.78,635.76 354.40,634.56 355.01,633.33 355.63,632.07 356.25,630.77 356.87,629.46 357.49,628.12 358.11,626.76 358.73,625.38 359.35,624.00 359.97,622.61 360.59,621.23 361.20,619.84 361.82,618.47 362.44,617.12 363.06,615.78 363.68,614.48 364.30,613.20 364.92,611.97 365.54,610.78 366.16,609.64 366.78,608.56 367.39,607.53 368.01,606.58 368.63,605.69 369.25,604.88 369.87,604.15 370.49,603.51 371.11,602.95 371.73,602.48 372.35,602.10 372.97,601.82 373.58,601.63 374.20,601.55 374.82,601.56 375.44,601.66 376.06,601.87 376.68,602.17 377.30,602.56 377.92,603.05 378.54,603.63 379.16,604.29 379.77,605.04 380.39,605.86 381.01,606.76 381.63,607.73 382.25,608.77 382.87,609.86 383.49,611.01 384.11,612.21 384.73,613.45 385.35,614.74 385.96,616.05 386.58,617.39 387.20,618.75 387.82,620.12 388.44,621.50 389.06,622.89 389.68,624.28 390.30,625.66 390.92,627.03 391.54,628.39 392.15,629.72 392.77,631.03 393.39,632.32 394.01,633.58 394.63,634.81 395.25,636.00 395.87,637.15 396.49,638.26 397.11,639.34 397.73,640.37 398.34,641.36 398.96,642.31 399.58,643.21 400.20,644.07 400.82,644.89 401.44,645.66 402.06,646.39 402.68,647.08 403.30,647.73 403.92,648.33 404.53,648.90 405.15,649.43 405.77,649.93 406.39,650.39 407.01,650.82 407.63,651.21 408.25,651.58 408.87,651.92 409.49,652.23 410.11,652.51 410.72,652.77 411.34,653.01 411.96,653.23 412.58,653.42 413.20,653.60 413.82,653.77 414.44,653.91 415.06,654.05 415.68,654.17 416.30,654.27 416.91,654.37 417.53,654.46 418.15,654.53 418.77,654.60 419.39,654.66 420.01,654.72 420.63,654.77 421.25,654.81 421.87,654.85 422.49,654.88 423.10,654.91 423.72,654.94 424.34,654.96 424.96,654.98 425.58,654.99 426.20,655.01L426.20,655.10Z" fill="rgb(13,77,171)" fill-opacity="0.476"/>
<polyline points="302.40,654.92 303.02,654.88 303.64,654.85 304.26,654.81 304.88,654.76 305.50,654.71 306.11,654.65 306.73,654.58 307.35,654.50 307.97,654.41 308.59,654.31 309.21,654.20 309.83,654.08 310.45,653.94 311.07,653.79 311.69,653.62 312.30,653.43 312.92,653.23 313.54,653.01 314.16,652.76 314.78,652.50 315.40,652.21 316.02,651.89 316.64,651.56 317.26,651.19 317.88,650.81 318.49,650.39 319.11,649.95 319.73,649.48 320.35,648.98 320.97,648.46 321.59,647.91 322.21,647.33 322.83,646.73 323.45,646.11 324.06,645.46 324.68,644.79 325.30,644.10 325.92,643.40 326.54,642.68 327.16,641.95 327.78,641.22 328.40,640.47 329.02,639.73 329.64,638.98 330.25,638.24 330.87,637.50 331.49,636.78 332.11,636.07 332.73,635.38 333.35,634.70 333.97,634.05 334.59,633.43 335.21,632.83 335.83,632.26 336.44,631.73 337.06,631.23 337.68,630.76 338.30,630.32 338.92,629.92 339.54,629.56 340.16,629.22 340.78,628.92 341.40,628.65 342.02,628.41 342.63,628.19 343.25,627.99 343.87,627.81 344.49,627.64 345.11,627.48 345.73,627.33 346.35,627.18 346.97,627.03 347.59,626.87 348.21,626.69 348.82,626.50 349.44,626.28 350.06,626.04 350.68,625.77 351.30,625.46 351.92,625.12 352.54,624.74 353.16,624.31 353.78,623.85 354.40,623.33 355.01,622.77 355.63,622.17 356.25,621.51 356.87,620.82 357.49,620.08 358.11,619.30 358.73,618.48 359.35,617.63 359.97,616.74 360.59,615.84 361.20,614.91 361.82,613.96 362.44,613.01 363.06,612.05 363.68,611.09 364.30,610.14 364.92,609.21 365.54,608.29 366.16,607.41 366.78,606.56 367.39,605.75 368.01,604.99 368.63,604.28 369.25,603.64 369.87,603.05 370.49,602.54 371.11,602.10 371.73,601.73 372.35,601.45 372.97,601.25 373.58,601.14 374.20,601.12 374.82,601.19 375.44,601.34 376.06,601.59 376.68,601.93 377.30,602.36 377.92,602.88 378.54,603.48 379.16,604.17 379.77,604.93 380.39,605.77 381.01,606.69 381.63,607.67 382.25,608.71 382.87,609.82 383.49,610.98 384.11,612.18 384.73,613.43 385.35,614.71 385.96,616.03 386.58,617.37 387.20,618.73 387.82,620.11 388.44,621.50 389.06,622.88 389.68,624.27 390.30,625.65 390.92,627.03 391.54,628.38 392.15,629.72 392.77,631.03 393.39,632.32 394.01,633.58 394.63,634.80 395.25,635.99 395.87,637.15 396.49,638.26 397.11,639.34 397.73,640.37 398.34,641.36 398.96,642.31 399.58,643.21 400.20,644.07 400.82,644.89 401.44,645.66 402.06,646.39 402.68,647.08 403.30,647.73 403.92,648.33 404.53,648.90 405.15,649.43 405.77,649.93 406.39,650.39 407.01,650.82 407.63,651.21 408.25,651.58 408.87,651.92 409.49,652.23 410.11,652.51 410.72,652.77 411.34,653.01 411.96,653.23 412.58,653.42 413.20,653.60 413.82,653.77 414.44,653.91 415.06,654.05 415.68,654.17 416.30,654.27 416.91,654.37 417.53,654.46 418.15,654.53 418.77,654.60 419.39,654.66 420.01,654.72 420.63,654.77 421.25,654.81 421.87,654.85 422.49,654.88 423.10,654.91 423.72,654.94 424.34,654.96 424.96,654.98 425.58,654.99 426.20,655.01" fill="none" stroke="#111" stroke-width="1.2" stroke-linejoin="round"/>
<path d="M302.40 551.30V655.10H426.20" fill="none" stroke="#555" stroke-width="1.0"/>
<path d="M298.80 655.10H302.40M300.10 644.72H302.40M298.80 634.34H302.40M300.10 623.96H302.40M298.80 613.58H302.40M300.10 603.20H302.40M298.80 592.82H302.40M300.10 582.44H302.40M298.80 572.06H302.40M300.10 561.68H302.40M298.80 551.30H302.40M302.40 655.10V657.50M314.78 655.10V657.50M327.16 655.10V657.50M339.54 655.10V657.50M351.92 655.10V657.50M364.30 655.10V657.50M376.68 655.10V657.50M389.06 655.10V657.50M401.44 655.10V657.50M413.82 655.10V657.50M426.20 655.10V657.50" fill="none" stroke="#555" stroke-width="0.9"/>
<text x="294.50" y="658.30" font-family="Liberation Sans" font-size="9" text-anchor="end" fill="#222" stroke="#222" stroke-width="0.22">0.00</text>
<text x="294.50" y="637.54" font-family="Liberation Sans" font-size="9" text-anchor="end" fill="#222" stroke="#222" stroke-width="0.22">0.01</text>
<text x="294.50" y="616.78" font-family="Liberation Sans" font-size="9" text-anchor="end" fill="#222" stroke="#222" stroke-width="0.22">0.02</text>
<text x="294.50" y="596.02" font-family="Liberation Sans" font-size="9" text-anchor="end" fill="#222" stroke="#222" stroke-width="0.22">0.03</text>
<text x="294.50" y="575.26" font-family="Liberation Sans" font-size="9" text-anchor="end" fill="#222" stroke="#222" stroke-width="0.22">0.04</text>
<text x="294.50" y="554.50" font-family="Liberation Sans" font-size="9" text-anchor="end" fill="#222" stroke="#222" stroke-width="0.22">0.05</text>
<text transform="translate(266.10,603.20) rotate(-90)" font-family="Liberation Sans" font-size="11.8" text-anchor="middle" fill="#222" stroke="#222" stroke-width="0.22">probability</text>
<text x="302.40" y="667.30" font-family="Liberation Sans" font-size="9" text-anchor="middle" fill="#222" stroke="#222" stroke-width="0.22">0</text>
<text x="327.16" y="667.30" font-family="Liberation Sans" font-size="9" text-anchor="middle" fill="#222" stroke="#222" stroke-width="0.22">20</text>
<text x="351.92" y="667.30" font-family="Liberation Sans" font-size="9" text-anchor="middle" fill="#222" stroke="#222" stroke-width="0.22">40</text>
<text x="376.68" y="667.30" font-family="Liberation Sans" font-size="9" text-anchor="middle" fill="#222" stroke="#222" stroke-width="0.22">60</text>
<text x="401.44" y="667.30" font-family="Liberation Sans" font-size="9" text-anchor="middle" fill="#222" stroke="#222" stroke-width="0.22">80</text>
<text x="426.20" y="667.30" font-family="Liberation Sans" font-size="9" text-anchor="middle" fill="#222" stroke="#222" stroke-width="0.22">100</text>
<text x="367.30" y="681.60" font-family="Liberation Sans" font-size="11.8" text-anchor="middle" fill="#222" stroke="#222" stroke-width="0.22">FRET efficiency (%)</text>
<text x="251.5" y="544.8" font-family="Liberation Sans" font-size="16.2" fill="#111" stroke="#111" stroke-width="0.22">j</text>
<text x="388.00" y="557.60" font-family="Liberation Sans" font-size="13.4" fill="#2b3090" stroke="#2b3090" stroke-width="0.22">+5 µM DNA</text>
<text x="391.05" y="574.70" font-family="Liberation Sans" font-size="12" fill="#e8202a" stroke="#e8202a" stroke-width="0.22">P<tspan font-size="7.0" dy="2.2">low</tspan><tspan dy="-2.2" dx="0.9">:</tspan></text>
<text x="421.05" y="574.70" font-family="Liberation Sans" font-size="12" fill="#e8202a" stroke="#e8202a" stroke-width="0.22">26.7%</text>
<text x="391.05" y="591.20" font-family="Liberation Sans" font-size="12" fill="#2b3090" stroke="#2b3090" stroke-width="0.22">P<tspan font-size="7.0" dy="2.2">high</tspan><tspan dy="-2.2" dx="0.9">:</tspan></text>
<text x="423.55" y="591.20" font-family="Liberation Sans" font-size="12" fill="#2b3090" stroke="#2b3090" stroke-width="0.22">73.3%</text>
<circle cx="417.3" cy="433.2" r="0.6" fill="#555"/>
</svg></body></html>
